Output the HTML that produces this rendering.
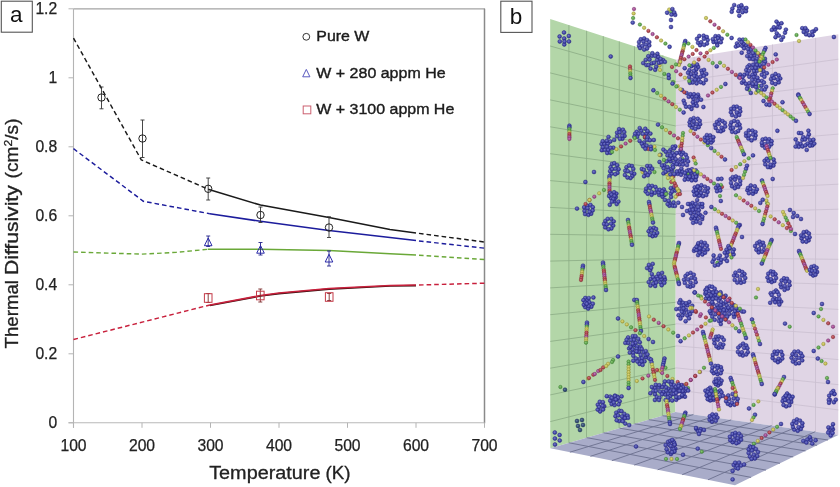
<!DOCTYPE html>
<html><head><meta charset="utf-8"><title>Thermal diffusivity of W with He</title>
<style>html,body{margin:0;padding:0;background:#fff}svg{display:block}</style></head>
<body>
<svg width="840" height="487" viewBox="0 0 840 487">
<rect width="840" height="487" fill="#fff"/>
<defs>
<radialGradient id="gb" cx="42%" cy="40%" r="60%"><stop offset="0" stop-color="#777ac3"/><stop offset="0.55" stop-color="#4a4eb0"/><stop offset="1" stop-color="#2c2c86"/></radialGradient>
<circle id="ab" r="1.95" fill="url(#gb)" stroke="#2c2c86" stroke-width="0.5"/>
<radialGradient id="gg" cx="42%" cy="40%" r="60%"><stop offset="0" stop-color="#8ac07b"/><stop offset="0.55" stop-color="#64ac50"/><stop offset="1" stop-color="#44863a"/></radialGradient>
<circle id="ag" r="1.75" fill="url(#gg)" stroke="#44863a" stroke-width="0.5"/>
<radialGradient id="gy" cx="42%" cy="40%" r="60%"><stop offset="0" stop-color="#d5d281"/><stop offset="0.55" stop-color="#c8c458"/><stop offset="1" stop-color="#9c983e"/></radialGradient>
<circle id="ay" r="1.75" fill="url(#gy)" stroke="#9c983e" stroke-width="0.5"/>
<radialGradient id="gr" cx="42%" cy="40%" r="60%"><stop offset="0" stop-color="#c9777d"/><stop offset="0.55" stop-color="#b84a52"/><stop offset="1" stop-color="#8a3038"/></radialGradient>
<circle id="ar" r="1.75" fill="url(#gr)" stroke="#8a3038" stroke-width="0.5"/>
<radialGradient id="gm" cx="42%" cy="40%" r="60%"><stop offset="0" stop-color="#bf7db3"/><stop offset="0.55" stop-color="#aa529a"/><stop offset="1" stop-color="#7e3672"/></radialGradient>
<circle id="am" r="1.75" fill="url(#gm)" stroke="#7e3672" stroke-width="0.5"/>
<radialGradient id="gd" cx="42%" cy="40%" r="60%"><stop offset="0" stop-color="#667b9b"/><stop offset="0.55" stop-color="#34507a"/><stop offset="1" stop-color="#22345a"/></radialGradient>
<circle id="ad" r="1.95" fill="url(#gd)" stroke="#22345a" stroke-width="0.5"/>
<radialGradient id="gc" cx="42%" cy="40%" r="60%"><stop offset="0" stop-color="#74bdd5"/><stop offset="0.55" stop-color="#46a8c8"/><stop offset="1" stop-color="#2e7890"/></radialGradient>
<circle id="ac" r="1.75" fill="url(#gc)" stroke="#2e7890" stroke-width="0.5"/>
<filter id="soft" x="-2%" y="-2%" width="104%" height="104%"><feGaussianBlur stdDeviation="0.55"/></filter>
</defs>
<g id="panel-b">
<polygon points="550.2,19.0 676.0,59.7 675.5,412.0 550.3,448.3" fill="#b3d6a8"/>
<path d="M568.9 25.0L568.9 442.9M586.6 30.8L586.5 437.8M603.3 36.2L603.2 433.0M619.3 41.4L619.1 428.4M634.5 46.3L634.2 424.0M649.0 51.0L648.6 419.8M662.8 55.4L662.4 415.8M550.2 46.0L676.0 81.8M550.2 72.9L675.9 103.9M550.2 99.9L675.9 126.0M550.2 126.8L675.9 148.1M550.2 153.7L675.8 170.1M550.2 180.6L675.8 192.2M550.2 207.4L675.8 214.2M550.3 234.3L675.7 236.3M550.3 261.1L675.7 258.3M550.3 287.9L675.7 280.3M550.3 314.7L675.7 302.3M550.3 341.4L675.6 324.2M550.3 368.2L675.6 346.2M550.3 394.9L675.6 368.1M550.3 421.6L675.5 390.1" fill="none" stroke="#8aab84" stroke-width="0.8" opacity="1"/>
<polygon points="676.0,59.7 838.3,34.2 838.3,435.0 675.5,412.0" fill="#e0d5e5"/>
<path d="M694.1 56.9L693.7 414.6M712.8 53.9L712.4 417.2M732.0 50.9L731.7 419.9M751.9 47.8L751.6 422.8M772.5 44.5L772.2 425.7M793.7 41.2L793.5 428.7M815.6 37.8L815.5 431.8M676.0 81.7L838.3 59.2M675.9 103.6L838.3 84.1M675.9 125.6L838.3 109.1M675.9 147.6L838.3 134.1M675.8 169.6L838.3 159.1M675.8 191.6L838.3 184.2M675.8 213.6L838.3 209.2M675.8 235.6L838.3 234.2M675.7 257.6L838.3 259.3M675.7 279.6L838.3 284.4M675.7 301.7L838.3 309.4M675.6 323.7L838.3 334.5M675.6 345.8L838.3 359.6M675.6 367.8L838.3 384.7M675.5 389.9L838.3 409.9" fill="none" stroke="#cbc0d1" stroke-width="0.85" opacity="1"/>
<polygon points="550.3,448.3 675.5,412.0 838.3,435.0 735.0,485.2" fill="#a9acc9"/>
<path d="M569.1 442.8L751.1 477.4M586.9 437.7L766.0 470.1M603.7 432.8L780.0 463.3M619.6 428.2L793.2 456.9M634.7 423.8L805.5 450.9M649.0 419.7L817.1 445.3M662.6 415.7L828.0 440.0M569.9 452.2L693.4 414.5M590.4 456.3L712.0 417.1M611.9 460.6L731.1 419.9M634.2 465.1L751.0 422.7M657.7 469.8L771.6 425.6M682.2 474.7L793.0 428.6M708.0 479.8L815.2 431.7" fill="none" stroke="#6c708e" stroke-width="0.9" opacity="1"/>
<g id="atoms" filter="url(#soft)">
<use href="#ab" x="559.6" y="36.5"/>
<use href="#ab" x="559.8" y="41.5"/>
<use href="#ab" x="564.0" y="32.5"/>
<use href="#ab" x="564.2" y="38.5"/>
<use href="#ab" x="564.3" y="44.5"/>
<use href="#ab" x="568.8" y="36.0"/>
<use href="#ab" x="569.0" y="41.5"/>
<use href="#ab" x="564.5" y="41.5"/>
<use href="#ab" x="610.7" y="56.5"/>
<use href="#ar" x="630.0" y="66.5"/>
<use href="#ar" x="630.1" y="68.8"/>
<use href="#ay" x="630.2" y="71.1"/>
<use href="#ag" x="630.3" y="73.4"/>
<use href="#ag" x="630.4" y="75.7"/>
<use href="#ab" x="630.5" y="78.0"/>
<use href="#am" x="634.0" y="9.0"/>
<use href="#ay" x="633.6" y="13.5"/>
<use href="#ag" x="633.1" y="18.1"/>
<use href="#ab" x="632.7" y="22.6"/>
<use href="#ag" x="639.9" y="24.6"/>
<use href="#ay" x="644.1" y="27.8"/>
<use href="#ar" x="648.4" y="30.9"/>
<use href="#am" x="652.6" y="34.1"/>
<use href="#ar" x="656.9" y="37.3"/>
<use href="#ay" x="661.1" y="40.5"/>
<use href="#ag" x="665.4" y="43.6"/>
<use href="#ab" x="669.6" y="46.8"/>
<use href="#ag" x="671.1" y="11.9"/>
<use href="#ay" x="669.2" y="9.5"/>
<use href="#ab" x="675.2" y="14.9"/>
<use href="#ab" x="672.4" y="9.1"/>
<use href="#ab" x="667.1" y="12.7"/>
<use href="#ab" x="671.5" y="14.6"/>
<use href="#ab" x="674.2" y="12.4"/>
<use href="#ab" x="671.0" y="20.0"/>
<use href="#ab" x="671.0" y="27.0"/>
<use href="#ab" x="639.0" y="45.9"/>
<use href="#ab" x="639.0" y="42.1"/>
<use href="#ab" x="640.8" y="39.3"/>
<use href="#ab" x="644.2" y="38.4"/>
<use href="#ab" x="647.1" y="40.1"/>
<use href="#ab" x="649.3" y="42.1"/>
<use href="#ab" x="649.3" y="45.5"/>
<use href="#ab" x="647.1" y="48.6"/>
<use href="#ab" x="644.2" y="49.6"/>
<use href="#ab" x="640.1" y="48.0"/>
<use href="#ab" x="642.4" y="45.9"/>
<use href="#ab" x="643.5" y="41.7"/>
<use href="#ab" x="646.0" y="44.6"/>
<use href="#ay" x="659.6" y="65.4"/>
<use href="#ab" x="651.8" y="55.8"/>
<use href="#ab" x="649.5" y="59.5"/>
<use href="#ab" x="646.4" y="65.1"/>
<use href="#ab" x="657.1" y="60.0"/>
<use href="#ab" x="658.2" y="56.7"/>
<use href="#ab" x="655.2" y="69.8"/>
<use href="#ab" x="651.7" y="63.4"/>
<use href="#ab" x="657.4" y="53.8"/>
<use href="#ab" x="645.7" y="59.9"/>
<use href="#ab" x="648.5" y="65.1"/>
<use href="#ab" x="663.2" y="60.3"/>
<use href="#ab" x="656.2" y="66.7"/>
<use href="#ab" x="652.4" y="53.3"/>
<use href="#ab" x="650.6" y="68.6"/>
<use href="#ab" x="648.3" y="56.2"/>
<use href="#ab" x="660.6" y="58.9"/>
<use href="#ab" x="654.1" y="62.7"/>
<use href="#ab" x="664.9" y="61.9"/>
<use href="#ab" x="658.8" y="62.9"/>
<use href="#ab" x="661.3" y="62.1"/>
<use href="#ab" x="655.1" y="55.9"/>
<use href="#ab" x="643.2" y="63.1"/>
<use href="#ay" x="660.0" y="70.0"/>
<use href="#ag" x="664.4" y="74.0"/>
<use href="#ab" x="668.8" y="78.0"/>
<use href="#ag" x="673.2" y="82.0"/>
<use href="#ay" x="677.6" y="86.0"/>
<use href="#ab" x="682.0" y="90.0"/>
<use href="#ab" x="653.4" y="90.3"/>
<use href="#ag" x="657.2" y="93.1"/>
<use href="#ay" x="661.0" y="95.8"/>
<use href="#ar" x="664.7" y="98.6"/>
<use href="#am" x="668.5" y="101.4"/>
<use href="#ar" x="672.3" y="104.2"/>
<use href="#ay" x="676.0" y="107.0"/>
<use href="#ag" x="679.8" y="109.7"/>
<use href="#ab" x="683.6" y="112.5"/>
<use href="#ab" x="703.4" y="107.0"/>
<use href="#ab" x="739.3" y="15.7"/>
<use href="#ab" x="732.4" y="8.6"/>
<use href="#ab" x="743.2" y="8.1"/>
<use href="#ab" x="738.8" y="6.4"/>
<use href="#ab" x="731.7" y="11.8"/>
<use href="#ab" x="739.5" y="8.9"/>
<use href="#ab" x="742.5" y="12.2"/>
<use href="#ab" x="746.0" y="11.3"/>
<use href="#ab" x="738.4" y="11.2"/>
<use href="#ab" x="746.4" y="8.0"/>
<use href="#ab" x="734.2" y="5.1"/>
<use href="#ab" x="741.4" y="5.3"/>
<use href="#ab" x="776.8" y="33.4"/>
<use href="#ab" x="785.0" y="32.7"/>
<use href="#ab" x="783.1" y="37.1"/>
<use href="#ab" x="777.7" y="27.2"/>
<use href="#ab" x="778.5" y="23.8"/>
<use href="#ab" x="775.0" y="29.6"/>
<use href="#ab" x="781.3" y="39.9"/>
<use href="#ab" x="785.9" y="29.6"/>
<use href="#ab" x="778.9" y="35.6"/>
<use href="#ab" x="771.8" y="29.9"/>
<use href="#ab" x="773.9" y="27.3"/>
<use href="#ab" x="776.5" y="21.6"/>
<use href="#ab" x="781.5" y="23.3"/>
<use href="#ab" x="779.7" y="27.5"/>
<use href="#ab" x="775.5" y="37.2"/>
<use href="#ab" x="806.1" y="34.4"/>
<use href="#ab" x="807.3" y="30.7"/>
<use href="#ab" x="803.7" y="32.0"/>
<use href="#ab" x="802.3" y="28.2"/>
<use href="#ab" x="814.1" y="31.1"/>
<use href="#ab" x="805.4" y="28.2"/>
<use href="#ab" x="812.1" y="31.8"/>
<use href="#ab" x="816.0" y="29.2"/>
<use href="#ab" x="812.6" y="35.2"/>
<use href="#ab" x="809.3" y="35.2"/>
<use href="#ab" x="833.9" y="37.0"/>
<use href="#ag" x="796.5" y="35.0"/>
<use href="#ay" x="799.0" y="41.0"/>
<use href="#ab" x="707.7" y="40.0"/>
<use href="#ab" x="707.0" y="43.6"/>
<use href="#ab" x="704.2" y="44.9"/>
<use href="#ab" x="700.1" y="45.2"/>
<use href="#ab" x="698.0" y="42.8"/>
<use href="#ab" x="697.0" y="38.8"/>
<use href="#ab" x="699.3" y="36.0"/>
<use href="#ab" x="703.6" y="35.7"/>
<use href="#ab" x="706.8" y="37.0"/>
<use href="#ab" x="703.9" y="38.8"/>
<use href="#ab" x="701.2" y="42.3"/>
<use href="#ab" x="720.8" y="42.3"/>
<use href="#ab" x="717.1" y="43.5"/>
<use href="#ab" x="713.5" y="42.0"/>
<use href="#ab" x="712.8" y="39.2"/>
<use href="#ab" x="715.5" y="36.2"/>
<use href="#ab" x="718.7" y="36.3"/>
<use href="#ab" x="721.7" y="38.7"/>
<use href="#ab" x="716.4" y="41.5"/>
<use href="#ab" x="718.0" y="38.2"/>
<use href="#ay" x="706.0" y="18.0"/>
<use href="#ar" x="710.3" y="21.3"/>
<use href="#am" x="714.5" y="24.7"/>
<use href="#ar" x="718.8" y="28.0"/>
<use href="#ay" x="723.1" y="31.3"/>
<use href="#ag" x="727.3" y="34.7"/>
<use href="#ab" x="731.6" y="38.0"/>
<use href="#ab" x="743.0" y="39.6"/>
<use href="#ab" x="756.2" y="52.9"/>
<use href="#ab" x="758.9" y="61.3"/>
<use href="#ab" x="761.3" y="60.8"/>
<use href="#ab" x="759.0" y="67.5"/>
<use href="#ab" x="759.9" y="65.0"/>
<use href="#ab" x="759.4" y="54.9"/>
<use href="#ab" x="741.7" y="52.7"/>
<use href="#ab" x="764.9" y="58.8"/>
<use href="#ab" x="754.4" y="55.4"/>
<use href="#ab" x="745.8" y="45.3"/>
<use href="#ab" x="742.2" y="46.0"/>
<use href="#ab" x="744.1" y="48.3"/>
<use href="#ab" x="765.2" y="61.9"/>
<use href="#ab" x="764.0" y="64.1"/>
<use href="#ab" x="753.0" y="53.1"/>
<use href="#ab" x="737.0" y="43.4"/>
<use href="#ab" x="749.2" y="46.4"/>
<use href="#ab" x="749.7" y="58.8"/>
<use href="#ab" x="735.9" y="46.6"/>
<use href="#ab" x="756.9" y="58.7"/>
<use href="#ab" x="755.9" y="61.8"/>
<use href="#ab" x="761.8" y="55.4"/>
<use href="#ab" x="753.0" y="59.2"/>
<use href="#ab" x="761.1" y="57.8"/>
<use href="#ab" x="751.0" y="56.0"/>
<use href="#ab" x="747.2" y="56.1"/>
<use href="#ab" x="748.8" y="52.3"/>
<use href="#ab" x="757.0" y="64.9"/>
<use href="#ab" x="751.0" y="49.6"/>
<use href="#ab" x="743.6" y="43.7"/>
<use href="#ab" x="748.0" y="49.1"/>
<use href="#ab" x="739.5" y="39.6"/>
<use href="#ab" x="738.3" y="45.5"/>
<use href="#ab" x="741.5" y="42.3"/>
<use href="#ag" x="745.5" y="39.5"/>
<use href="#ay" x="748.0" y="42.2"/>
<use href="#ar" x="750.5" y="44.9"/>
<use href="#am" x="753.0" y="47.6"/>
<use href="#ag" x="755.5" y="50.4"/>
<use href="#ay" x="758.0" y="53.1"/>
<use href="#ar" x="760.5" y="55.8"/>
<use href="#ag" x="763.0" y="58.5"/>
<use href="#ay" x="756.0" y="92.8"/>
<use href="#ag" x="759.0" y="86.0"/>
<use href="#ag" x="749.2" y="89.9"/>
<use href="#ab" x="756.1" y="79.9"/>
<use href="#ab" x="746.2" y="70.1"/>
<use href="#ab" x="749.3" y="76.8"/>
<use href="#ab" x="766.2" y="86.8"/>
<use href="#ab" x="744.4" y="74.8"/>
<use href="#ab" x="761.8" y="74.8"/>
<use href="#ab" x="763.5" y="71.2"/>
<use href="#ab" x="749.3" y="65.3"/>
<use href="#ab" x="749.0" y="70.9"/>
<use href="#ab" x="761.6" y="85.7"/>
<use href="#ab" x="757.6" y="90.1"/>
<use href="#ab" x="758.1" y="68.2"/>
<use href="#ab" x="764.4" y="76.8"/>
<use href="#ab" x="761.9" y="80.9"/>
<use href="#ab" x="758.4" y="80.7"/>
<use href="#ab" x="755.0" y="74.2"/>
<use href="#ab" x="752.4" y="74.7"/>
<use href="#ab" x="747.3" y="73.6"/>
<use href="#ab" x="753.7" y="77.1"/>
<use href="#ab" x="752.5" y="85.9"/>
<use href="#ab" x="742.0" y="82.7"/>
<use href="#ab" x="752.3" y="68.2"/>
<use href="#ab" x="756.9" y="70.9"/>
<use href="#ab" x="756.0" y="86.9"/>
<use href="#ab" x="766.8" y="73.3"/>
<use href="#ab" x="740.2" y="74.7"/>
<use href="#ab" x="742.5" y="77.2"/>
<use href="#ab" x="750.8" y="92.9"/>
<use href="#ab" x="745.8" y="83.7"/>
<use href="#ab" x="754.0" y="71.0"/>
<use href="#ab" x="764.7" y="89.6"/>
<use href="#ab" x="743.7" y="81.0"/>
<use href="#ab" x="752.2" y="80.1"/>
<use href="#ab" x="762.0" y="67.4"/>
<use href="#ab" x="739.1" y="77.1"/>
<use href="#ab" x="747.5" y="66.9"/>
<use href="#ab" x="749.3" y="83.2"/>
<use href="#ab" x="761.5" y="90.1"/>
<use href="#ab" x="753.2" y="64.7"/>
<use href="#ab" x="756.1" y="84.0"/>
<use href="#ab" x="747.7" y="86.9"/>
<use href="#ab" x="747.0" y="88.8"/>
<use href="#ab" x="752.8" y="84.0"/>
<use href="#ab" x="761.0" y="70.0"/>
<use href="#ab" x="755.6" y="67.9"/>
<use href="#ab" x="763.9" y="82.5"/>
<use href="#ab" x="757.4" y="77.7"/>
<use href="#ab" x="778.7" y="75.4"/>
<use href="#ab" x="780.3" y="78.5"/>
<use href="#ab" x="778.7" y="82.4"/>
<use href="#ab" x="775.4" y="84.0"/>
<use href="#ab" x="772.1" y="82.8"/>
<use href="#ab" x="771.0" y="79.1"/>
<use href="#ab" x="772.3" y="75.9"/>
<use href="#ab" x="775.5" y="74.0"/>
<use href="#ab" x="777.7" y="79.5"/>
<use href="#ab" x="774.0" y="78.2"/>
<use href="#ab" x="696.6" y="83.4"/>
<use href="#ab" x="696.1" y="67.7"/>
<use href="#ab" x="691.8" y="80.1"/>
<use href="#ab" x="689.5" y="70.3"/>
<use href="#ab" x="695.8" y="73.3"/>
<use href="#ab" x="691.5" y="66.2"/>
<use href="#ab" x="701.4" y="70.6"/>
<use href="#ab" x="702.2" y="73.0"/>
<use href="#ab" x="706.3" y="73.9"/>
<use href="#ab" x="698.7" y="80.1"/>
<use href="#ab" x="704.1" y="69.9"/>
<use href="#ab" x="696.8" y="77.0"/>
<use href="#ab" x="700.6" y="76.8"/>
<use href="#ab" x="691.0" y="74.2"/>
<use href="#ab" x="698.2" y="67.0"/>
<use href="#ab" x="694.3" y="76.0"/>
<use href="#ab" x="693.6" y="64.7"/>
<use href="#ab" x="689.2" y="77.1"/>
<use href="#ab" x="703.9" y="75.9"/>
<use href="#ab" x="705.9" y="80.0"/>
<use href="#ab" x="696.3" y="69.4"/>
<use href="#ab" x="697.1" y="64.5"/>
<use href="#ab" x="692.7" y="82.6"/>
<use href="#ab" x="703.5" y="83.3"/>
<use href="#ab" x="695.3" y="79.7"/>
<use href="#ab" x="693.8" y="70.9"/>
<use href="#ab" x="688.0" y="72.8"/>
<use href="#ab" x="700.7" y="82.2"/>
<use href="#ab" x="689.9" y="82.8"/>
<use href="#ab" x="695.8" y="103.8"/>
<use href="#ab" x="686.0" y="106.7"/>
<use href="#ab" x="696.9" y="105.9"/>
<use href="#ab" x="693.4" y="105.5"/>
<use href="#ab" x="683.7" y="100.7"/>
<use href="#ab" x="691.5" y="109.0"/>
<use href="#ab" x="693.5" y="99.1"/>
<use href="#ab" x="692.9" y="102.3"/>
<use href="#ab" x="701.1" y="99.7"/>
<use href="#ab" x="684.7" y="103.6"/>
<use href="#ab" x="692.1" y="96.8"/>
<use href="#ab" x="688.7" y="96.8"/>
<use href="#ab" x="690.5" y="94.3"/>
<use href="#ab" x="694.0" y="94.3"/>
<use href="#ab" x="698.4" y="96.7"/>
<use href="#ab" x="697.9" y="94.6"/>
<use href="#ab" x="689.4" y="106.8"/>
<use href="#ab" x="686.6" y="93.1"/>
<use href="#ab" x="697.5" y="100.6"/>
<use href="#ab" x="696.5" y="96.5"/>
<use href="#ab" x="765.5" y="48.0"/>
<use href="#ab" x="764.5" y="50.3"/>
<use href="#ag" x="763.5" y="52.5"/>
<use href="#ag" x="762.5" y="54.8"/>
<use href="#ay" x="761.5" y="57.1"/>
<use href="#ay" x="760.5" y="59.3"/>
<use href="#ag" x="759.5" y="61.6"/>
<use href="#am" x="776.8" y="59.5"/>
<use href="#ar" x="772.6" y="62.1"/>
<use href="#am" x="768.4" y="64.8"/>
<use href="#ar" x="764.2" y="67.4"/>
<use href="#ay" x="760.0" y="70.0"/>
<use href="#ab" x="775.7" y="54.4"/>
<use href="#ag" x="688.4" y="43.6"/>
<use href="#ay" x="692.4" y="46.9"/>
<use href="#ar" x="696.5" y="50.1"/>
<use href="#am" x="700.5" y="53.4"/>
<use href="#ar" x="704.6" y="56.6"/>
<use href="#ay" x="708.6" y="59.9"/>
<use href="#ag" x="712.7" y="63.1"/>
<use href="#ab" x="716.7" y="66.4"/>
<use href="#ag" x="720.0" y="62.7"/>
<use href="#ay" x="724.0" y="65.8"/>
<use href="#ar" x="727.9" y="68.8"/>
<use href="#am" x="731.9" y="71.9"/>
<use href="#ar" x="735.8" y="74.9"/>
<use href="#am" x="739.8" y="78.0"/>
<use href="#ab" x="685.3" y="41.0"/>
<use href="#ab" x="684.8" y="42.7"/>
<use href="#ag" x="684.4" y="44.4"/>
<use href="#ag" x="683.9" y="46.1"/>
<use href="#ay" x="683.5" y="47.9"/>
<use href="#ay" x="683.0" y="49.6"/>
<use href="#ar" x="682.6" y="51.3"/>
<use href="#ar" x="682.1" y="53.0"/>
<use href="#am" x="681.7" y="54.7"/>
<use href="#am" x="681.2" y="56.4"/>
<use href="#ar" x="680.8" y="58.1"/>
<use href="#ar" x="680.4" y="59.9"/>
<use href="#am" x="679.9" y="61.6"/>
<use href="#am" x="679.5" y="63.3"/>
<use href="#ay" x="679.0" y="65.0"/>
<use href="#ar" x="706.9" y="52.8"/>
<use href="#ay" x="710.4" y="50.3"/>
<use href="#ag" x="713.8" y="47.9"/>
<use href="#ab" x="717.3" y="45.4"/>
<use href="#ar" x="692.7" y="54.0"/>
<use href="#am" x="688.6" y="56.6"/>
<use href="#ar" x="684.4" y="59.2"/>
<use href="#ay" x="680.3" y="61.8"/>
<use href="#ag" x="676.1" y="64.4"/>
<use href="#ar" x="672.0" y="67.0"/>
<use href="#ab" x="725.4" y="84.0"/>
<use href="#ag" x="721.0" y="86.9"/>
<use href="#ay" x="716.7" y="89.8"/>
<use href="#ar" x="712.4" y="92.6"/>
<use href="#am" x="708.0" y="95.5"/>
<use href="#ag" x="772.7" y="88.3"/>
<use href="#ay" x="772.0" y="90.8"/>
<use href="#ar" x="771.3" y="93.4"/>
<use href="#am" x="770.7" y="95.9"/>
<use href="#ar" x="770.0" y="98.5"/>
<use href="#am" x="769.3" y="101.0"/>
<use href="#ab" x="798.3" y="94.5"/>
<use href="#ag" x="800.4" y="98.6"/>
<use href="#ab" x="668.6" y="75.0"/>
<use href="#ab" x="672.5" y="83.6"/>
<use href="#ag" x="676.4" y="86.5"/>
<use href="#ay" x="680.4" y="89.3"/>
<use href="#ar" x="684.3" y="92.2"/>
<use href="#ar" x="698.8" y="59.6"/>
<use href="#ay" x="694.1" y="62.5"/>
<use href="#ag" x="689.4" y="65.3"/>
<use href="#ab" x="684.7" y="68.2"/>
<use href="#am" x="676.2" y="71.2"/>
<use href="#ar" x="680.5" y="74.5"/>
<use href="#ay" x="684.9" y="77.8"/>
<use href="#ag" x="689.2" y="81.1"/>
<use href="#ab" x="569.4" y="125.7"/>
<use href="#ab" x="569.4" y="127.4"/>
<use href="#ag" x="569.4" y="129.0"/>
<use href="#ag" x="569.4" y="130.7"/>
<use href="#ay" x="569.4" y="132.3"/>
<use href="#ar" x="569.4" y="134.0"/>
<use href="#ar" x="569.4" y="135.7"/>
<use href="#am" x="569.4" y="137.3"/>
<use href="#am" x="569.4" y="139.0"/>
<use href="#ab" x="622.9" y="129.7"/>
<use href="#ab" x="624.3" y="132.1"/>
<use href="#ab" x="624.6" y="136.0"/>
<use href="#ab" x="622.4" y="138.7"/>
<use href="#ab" x="619.9" y="138.8"/>
<use href="#ab" x="617.0" y="136.1"/>
<use href="#ab" x="617.1" y="132.6"/>
<use href="#ab" x="619.1" y="129.2"/>
<use href="#ab" x="619.7" y="132.4"/>
<use href="#ab" x="622.3" y="135.7"/>
<use href="#ab" x="601.8" y="150.2"/>
<use href="#ab" x="604.8" y="149.9"/>
<use href="#ab" x="601.6" y="144.1"/>
<use href="#ab" x="604.4" y="143.8"/>
<use href="#ab" x="614.2" y="139.9"/>
<use href="#ab" x="610.3" y="141.5"/>
<use href="#ab" x="607.7" y="143.7"/>
<use href="#ab" x="602.7" y="141.2"/>
<use href="#ab" x="606.8" y="140.7"/>
<use href="#ab" x="607.1" y="146.7"/>
<use href="#ab" x="602.8" y="147.2"/>
<use href="#ab" x="607.2" y="153.0"/>
<use href="#ab" x="608.3" y="149.9"/>
<use href="#ab" x="608.5" y="136.9"/>
<use href="#ab" x="613.4" y="147.7"/>
<use href="#ab" x="610.5" y="147.8"/>
<use href="#ab" x="610.5" y="152.7"/>
<use href="#ab" x="645.1" y="137.5"/>
<use href="#ab" x="650.4" y="133.6"/>
<use href="#ab" x="641.3" y="130.6"/>
<use href="#ab" x="646.5" y="133.5"/>
<use href="#ab" x="639.7" y="128.1"/>
<use href="#ab" x="645.3" y="128.7"/>
<use href="#ab" x="642.9" y="133.9"/>
<use href="#ab" x="636.8" y="131.8"/>
<use href="#ab" x="638.6" y="133.8"/>
<use href="#ab" x="637.2" y="136.9"/>
<use href="#ab" x="647.6" y="131.2"/>
<use href="#ab" x="647.5" y="137.6"/>
<use href="#ab" x="635.1" y="133.8"/>
<use href="#ab" x="634.4" y="136.8"/>
<use href="#ag" x="612.0" y="152.0"/>
<use href="#ay" x="616.5" y="149.2"/>
<use href="#ar" x="621.1" y="146.4"/>
<use href="#am" x="625.6" y="143.6"/>
<use href="#ar" x="630.2" y="140.8"/>
<use href="#ag" x="634.7" y="138.0"/>
<use href="#ar" x="648.3" y="149.0"/>
<use href="#ay" x="654.5" y="146.8"/>
<use href="#ar" x="644.9" y="137.0"/>
<use href="#ab" x="647.5" y="137.3"/>
<use href="#ab" x="644.0" y="142.5"/>
<use href="#ab" x="641.8" y="143.7"/>
<use href="#ab" x="647.2" y="139.9"/>
<use href="#ab" x="650.8" y="146.6"/>
<use href="#ab" x="646.6" y="145.6"/>
<use href="#ab" x="651.0" y="149.3"/>
<use href="#ab" x="643.2" y="146.4"/>
<use href="#ab" x="650.0" y="140.3"/>
<use href="#ab" x="645.4" y="148.8"/>
<use href="#ab" x="639.6" y="140.9"/>
<use href="#ab" x="653.8" y="140.0"/>
<use href="#ab" x="617.5" y="172.9"/>
<use href="#ab" x="615.3" y="174.3"/>
<use href="#ab" x="611.6" y="173.6"/>
<use href="#ab" x="610.1" y="171.2"/>
<use href="#ab" x="610.6" y="167.3"/>
<use href="#ab" x="612.0" y="163.9"/>
<use href="#ab" x="614.3" y="163.2"/>
<use href="#ab" x="617.2" y="165.2"/>
<use href="#ab" x="618.6" y="169.2"/>
<use href="#ab" x="612.1" y="169.2"/>
<use href="#ab" x="615.4" y="168.8"/>
<use href="#ab" x="631.9" y="166.0"/>
<use href="#ab" x="633.3" y="168.9"/>
<use href="#ab" x="634.3" y="173.7"/>
<use href="#ab" x="632.2" y="176.3"/>
<use href="#ab" x="630.5" y="178.1"/>
<use href="#ab" x="627.5" y="177.5"/>
<use href="#ab" x="624.9" y="175.0"/>
<use href="#ab" x="625.3" y="170.7"/>
<use href="#ab" x="626.5" y="167.2"/>
<use href="#ab" x="629.1" y="165.5"/>
<use href="#ab" x="627.8" y="171.2"/>
<use href="#ab" x="631.4" y="172.7"/>
<use href="#ay" x="642.5" y="171.9"/>
<use href="#ag" x="654.5" y="172.1"/>
<use href="#ab" x="641.8" y="169.0"/>
<use href="#ab" x="649.7" y="172.6"/>
<use href="#ab" x="647.2" y="166.0"/>
<use href="#ab" x="649.1" y="168.6"/>
<use href="#ab" x="643.9" y="169.8"/>
<use href="#ab" x="650.3" y="166.1"/>
<use href="#ab" x="644.1" y="176.3"/>
<use href="#ab" x="645.6" y="173.0"/>
<use href="#ab" x="652.2" y="168.8"/>
<use href="#ab" x="647.8" y="175.3"/>
<use href="#ay" x="666.8" y="174.3"/>
<use href="#ar" x="673.2" y="176.6"/>
<use href="#ag" x="682.6" y="159.1"/>
<use href="#ay" x="679.7" y="146.3"/>
<use href="#ab" x="683.0" y="152.7"/>
<use href="#ab" x="677.7" y="173.9"/>
<use href="#ab" x="681.4" y="154.7"/>
<use href="#ab" x="670.4" y="161.3"/>
<use href="#ab" x="664.3" y="165.3"/>
<use href="#ab" x="667.5" y="155.4"/>
<use href="#ab" x="674.1" y="162.6"/>
<use href="#ab" x="679.5" y="164.6"/>
<use href="#ab" x="660.4" y="154.8"/>
<use href="#ab" x="663.4" y="149.6"/>
<use href="#ab" x="670.4" y="149.9"/>
<use href="#ab" x="672.8" y="153.2"/>
<use href="#ab" x="679.4" y="171.2"/>
<use href="#ab" x="672.4" y="158.3"/>
<use href="#ab" x="688.1" y="161.4"/>
<use href="#ab" x="671.9" y="170.8"/>
<use href="#ab" x="670.4" y="174.5"/>
<use href="#ab" x="675.3" y="146.4"/>
<use href="#ab" x="683.1" y="164.6"/>
<use href="#ab" x="663.7" y="168.4"/>
<use href="#ab" x="675.8" y="159.2"/>
<use href="#ab" x="663.5" y="173.4"/>
<use href="#ab" x="671.4" y="168.8"/>
<use href="#ab" x="684.2" y="160.8"/>
<use href="#ab" x="682.1" y="161.0"/>
<use href="#ab" x="679.2" y="152.6"/>
<use href="#ab" x="667.6" y="167.2"/>
<use href="#ab" x="685.8" y="154.8"/>
<use href="#ab" x="677.7" y="162.5"/>
<use href="#ab" x="681.1" y="174.8"/>
<use href="#ab" x="672.7" y="165.4"/>
<use href="#ab" x="659.5" y="162.0"/>
<use href="#ab" x="682.5" y="171.6"/>
<use href="#ab" x="665.7" y="151.7"/>
<use href="#ab" x="672.8" y="146.8"/>
<use href="#ab" x="669.3" y="151.6"/>
<use href="#ab" x="665.7" y="171.9"/>
<use href="#ab" x="676.7" y="153.0"/>
<use href="#ab" x="687.0" y="157.7"/>
<use href="#ab" x="662.0" y="165.5"/>
<use href="#ab" x="687.0" y="165.1"/>
<use href="#ab" x="680.6" y="149.7"/>
<use href="#ab" x="676.7" y="164.2"/>
<use href="#ab" x="681.4" y="168.6"/>
<use href="#ab" x="674.5" y="155.5"/>
<use href="#ab" x="669.4" y="159.2"/>
<use href="#ab" x="670.8" y="155.7"/>
<use href="#ab" x="674.1" y="148.5"/>
<use href="#ab" x="676.8" y="171.5"/>
<use href="#ab" x="680.3" y="159.3"/>
<use href="#ab" x="674.3" y="174.2"/>
<use href="#ab" x="668.4" y="170.3"/>
<use href="#ab" x="666.5" y="161.4"/>
<use href="#ab" x="673.2" y="167.5"/>
<use href="#ab" x="594.0" y="172.0"/>
<use href="#ab" x="585.4" y="182.0"/>
<use href="#ab" x="609.5" y="176.0"/>
<use href="#ab" x="609.5" y="177.8"/>
<use href="#ay" x="609.5" y="179.6"/>
<use href="#ay" x="609.5" y="181.5"/>
<use href="#ar" x="609.5" y="183.3"/>
<use href="#ar" x="609.5" y="185.1"/>
<use href="#am" x="609.5" y="186.9"/>
<use href="#am" x="609.5" y="188.7"/>
<use href="#ar" x="609.5" y="190.5"/>
<use href="#ar" x="609.5" y="192.4"/>
<use href="#ay" x="609.5" y="194.2"/>
<use href="#ag" x="609.5" y="196.0"/>
<use href="#ar" x="589.5" y="200.0"/>
<use href="#am" x="594.3" y="196.7"/>
<use href="#ay" x="599.2" y="193.3"/>
<use href="#ag" x="604.0" y="190.0"/>
<use href="#ab" x="616.4" y="193.6"/>
<use href="#ab" x="615.9" y="197.1"/>
<use href="#ab" x="614.5" y="198.9"/>
<use href="#ab" x="611.0" y="198.2"/>
<use href="#ab" x="609.1" y="196.0"/>
<use href="#ab" x="610.2" y="192.9"/>
<use href="#ab" x="614.1" y="192.3"/>
<use href="#ab" x="611.4" y="194.6"/>
<use href="#ab" x="614.5" y="196.0"/>
<use href="#ab" x="645.7" y="191.5"/>
<use href="#ab" x="646.2" y="188.6"/>
<use href="#ab" x="648.6" y="185.6"/>
<use href="#ab" x="652.1" y="185.9"/>
<use href="#ab" x="655.5" y="187.0"/>
<use href="#ab" x="657.0" y="189.7"/>
<use href="#ab" x="654.8" y="192.9"/>
<use href="#ab" x="651.6" y="194.8"/>
<use href="#ab" x="647.7" y="193.7"/>
<use href="#ab" x="651.7" y="192.1"/>
<use href="#ab" x="650.2" y="188.1"/>
<use href="#ab" x="659.2" y="194.9"/>
<use href="#ab" x="658.8" y="192.4"/>
<use href="#ab" x="659.8" y="189.8"/>
<use href="#ab" x="663.8" y="189.4"/>
<use href="#ab" x="665.4" y="192.4"/>
<use href="#ab" x="664.6" y="195.0"/>
<use href="#ab" x="662.5" y="196.7"/>
<use href="#ab" x="662.2" y="191.3"/>
<use href="#ab" x="662.0" y="194.2"/>
<use href="#ar" x="677.6" y="194.6"/>
<use href="#ay" x="675.7" y="196.8"/>
<use href="#ag" x="666.2" y="194.1"/>
<use href="#ab" x="679.3" y="191.1"/>
<use href="#ab" x="675.4" y="190.5"/>
<use href="#ab" x="670.7" y="193.6"/>
<use href="#ab" x="676.5" y="188.6"/>
<use href="#ab" x="671.1" y="197.0"/>
<use href="#ab" x="673.9" y="187.4"/>
<use href="#ab" x="670.8" y="188.2"/>
<use href="#ab" x="672.1" y="191.6"/>
<use href="#ab" x="658.0" y="124.6"/>
<use href="#ag" x="662.0" y="127.3"/>
<use href="#ay" x="666.0" y="130.1"/>
<use href="#ar" x="670.0" y="132.8"/>
<use href="#am" x="674.0" y="135.5"/>
<use href="#ar" x="678.0" y="138.3"/>
<use href="#am" x="682.0" y="141.0"/>
<use href="#ab" x="691.9" y="128.0"/>
<use href="#ab" x="689.9" y="125.4"/>
<use href="#ab" x="689.6" y="122.2"/>
<use href="#ab" x="690.6" y="119.5"/>
<use href="#ab" x="693.7" y="118.1"/>
<use href="#ab" x="697.7" y="118.8"/>
<use href="#ab" x="699.7" y="120.8"/>
<use href="#ab" x="700.1" y="124.2"/>
<use href="#ab" x="698.6" y="127.2"/>
<use href="#ab" x="695.4" y="128.9"/>
<use href="#ab" x="693.2" y="124.9"/>
<use href="#ab" x="693.9" y="121.5"/>
<use href="#ab" x="696.8" y="124.3"/>
<use href="#ab" x="695.8" y="170.4"/>
<use href="#ab" x="697.1" y="173.9"/>
<use href="#ab" x="696.2" y="176.6"/>
<use href="#ab" x="693.5" y="178.0"/>
<use href="#ab" x="689.7" y="177.8"/>
<use href="#ab" x="687.1" y="176.0"/>
<use href="#ab" x="686.5" y="172.6"/>
<use href="#ab" x="688.7" y="170.0"/>
<use href="#ab" x="692.0" y="169.2"/>
<use href="#ab" x="693.6" y="172.8"/>
<use href="#ab" x="690.1" y="175.7"/>
<use href="#ab" x="693.7" y="191.4"/>
<use href="#ab" x="694.7" y="187.4"/>
<use href="#ab" x="697.8" y="186.1"/>
<use href="#ab" x="699.9" y="188.2"/>
<use href="#ab" x="700.3" y="192.7"/>
<use href="#ab" x="697.9" y="195.8"/>
<use href="#ab" x="694.5" y="194.9"/>
<use href="#ab" x="697.2" y="193.1"/>
<use href="#ab" x="697.0" y="188.8"/>
<use href="#ag" x="655.0" y="150.0"/>
<use href="#ay" x="659.5" y="155.0"/>
<use href="#ag" x="664.0" y="160.0"/>
<use href="#ay" x="668.0" y="178.0"/>
<use href="#ar" x="671.3" y="182.0"/>
<use href="#am" x="674.7" y="186.0"/>
<use href="#ay" x="678.0" y="190.0"/>
<use href="#ab" x="735.9" y="116.5"/>
<use href="#ab" x="732.1" y="115.1"/>
<use href="#ab" x="730.9" y="112.3"/>
<use href="#ab" x="731.1" y="108.9"/>
<use href="#ab" x="733.8" y="106.7"/>
<use href="#ab" x="736.8" y="106.6"/>
<use href="#ab" x="739.9" y="108.3"/>
<use href="#ab" x="740.3" y="111.5"/>
<use href="#ab" x="739.3" y="115.0"/>
<use href="#ab" x="736.8" y="112.5"/>
<use href="#ab" x="734.3" y="109.1"/>
<use href="#ab" x="718.0" y="131.0"/>
<use href="#ab" x="715.7" y="128.0"/>
<use href="#ab" x="715.0" y="124.9"/>
<use href="#ab" x="717.0" y="121.9"/>
<use href="#ab" x="719.5" y="119.9"/>
<use href="#ab" x="722.6" y="121.2"/>
<use href="#ab" x="724.9" y="123.0"/>
<use href="#ab" x="725.2" y="126.6"/>
<use href="#ab" x="723.1" y="130.2"/>
<use href="#ab" x="720.8" y="131.4"/>
<use href="#ab" x="721.6" y="127.7"/>
<use href="#ab" x="718.8" y="124.1"/>
<use href="#ab" x="737.8" y="121.8"/>
<use href="#ab" x="739.5" y="124.5"/>
<use href="#ab" x="740.2" y="128.0"/>
<use href="#ab" x="738.2" y="131.0"/>
<use href="#ab" x="735.6" y="132.4"/>
<use href="#ab" x="732.1" y="131.8"/>
<use href="#ab" x="730.7" y="128.5"/>
<use href="#ab" x="730.4" y="125.1"/>
<use href="#ab" x="731.3" y="122.4"/>
<use href="#ab" x="734.2" y="121.0"/>
<use href="#ab" x="736.9" y="125.4"/>
<use href="#ab" x="733.2" y="127.9"/>
<use href="#ab" x="752.5" y="130.6"/>
<use href="#ab" x="755.5" y="132.1"/>
<use href="#ab" x="755.6" y="135.6"/>
<use href="#ab" x="754.9" y="138.4"/>
<use href="#ab" x="751.5" y="140.4"/>
<use href="#ab" x="748.4" y="138.6"/>
<use href="#ab" x="746.1" y="135.8"/>
<use href="#ab" x="746.1" y="133.1"/>
<use href="#ab" x="748.8" y="130.5"/>
<use href="#ab" x="748.9" y="135.4"/>
<use href="#ab" x="753.0" y="134.6"/>
<use href="#ab" x="762.6" y="139.5"/>
<use href="#ab" x="765.6" y="138.7"/>
<use href="#ab" x="769.2" y="139.3"/>
<use href="#ab" x="771.6" y="141.3"/>
<use href="#ab" x="771.3" y="144.3"/>
<use href="#ab" x="769.1" y="146.7"/>
<use href="#ab" x="765.2" y="147.9"/>
<use href="#ab" x="762.3" y="145.5"/>
<use href="#ab" x="761.8" y="142.9"/>
<use href="#ab" x="768.1" y="141.8"/>
<use href="#ab" x="765.1" y="144.2"/>
<use href="#ab" x="774.3" y="162.6"/>
<use href="#ab" x="773.4" y="165.6"/>
<use href="#ab" x="770.3" y="167.2"/>
<use href="#ab" x="767.9" y="167.1"/>
<use href="#ab" x="765.3" y="164.4"/>
<use href="#ab" x="764.6" y="160.8"/>
<use href="#ab" x="766.8" y="158.8"/>
<use href="#ab" x="770.1" y="157.5"/>
<use href="#ab" x="773.6" y="159.5"/>
<use href="#ab" x="768.3" y="160.8"/>
<use href="#ab" x="770.6" y="164.7"/>
<use href="#ab" x="806.7" y="149.9"/>
<use href="#ab" x="798.8" y="146.8"/>
<use href="#ab" x="807.5" y="143.6"/>
<use href="#ab" x="802.4" y="139.7"/>
<use href="#ab" x="800.6" y="143.7"/>
<use href="#ab" x="803.3" y="137.2"/>
<use href="#ab" x="811.2" y="142.8"/>
<use href="#ab" x="798.9" y="133.0"/>
<use href="#ab" x="795.6" y="146.6"/>
<use href="#ab" x="812.4" y="145.4"/>
<use href="#ab" x="808.9" y="134.4"/>
<use href="#ab" x="795.7" y="139.5"/>
<use href="#ab" x="802.5" y="146.5"/>
<use href="#ab" x="810.1" y="140.1"/>
<use href="#ab" x="805.3" y="145.4"/>
<use href="#ab" x="807.6" y="137.1"/>
<use href="#ab" x="797.4" y="143.1"/>
<use href="#ab" x="814.3" y="143.6"/>
<use href="#ab" x="805.0" y="139.5"/>
<use href="#ab" x="808.4" y="130.7"/>
<use href="#ab" x="813.4" y="139.7"/>
<use href="#ab" x="801.3" y="133.2"/>
<use href="#ab" x="809.9" y="145.7"/>
<use href="#ab" x="777.4" y="130.8"/>
<use href="#ag" x="758.5" y="91.0"/>
<use href="#ay" x="761.2" y="93.1"/>
<use href="#ay" x="763.9" y="95.3"/>
<use href="#ag" x="766.5" y="97.4"/>
<use href="#ar" x="769.2" y="99.5"/>
<use href="#am" x="771.9" y="101.6"/>
<use href="#ar" x="774.6" y="103.8"/>
<use href="#ay" x="777.2" y="105.9"/>
<use href="#ay" x="779.9" y="108.0"/>
<use href="#ag" x="782.6" y="110.2"/>
<use href="#ay" x="785.3" y="112.3"/>
<use href="#ay" x="788.0" y="114.4"/>
<use href="#ag" x="790.6" y="116.5"/>
<use href="#ag" x="793.3" y="118.7"/>
<use href="#ab" x="796.0" y="120.8"/>
<use href="#ab" x="782.5" y="102.3"/>
<use href="#ab" x="763.5" y="101.0"/>
<use href="#ab" x="766.5" y="104.5"/>
<use href="#ab" x="769.5" y="105.0"/>
<use href="#ab" x="798.5" y="95.5"/>
<use href="#ag" x="799.9" y="97.8"/>
<use href="#ay" x="801.3" y="100.1"/>
<use href="#ar" x="802.7" y="102.4"/>
<use href="#am" x="804.0" y="104.8"/>
<use href="#ar" x="805.4" y="107.1"/>
<use href="#ay" x="806.8" y="109.4"/>
<use href="#ag" x="808.2" y="111.7"/>
<use href="#ab" x="809.6" y="114.0"/>
<use href="#ag" x="736.7" y="137.0"/>
<use href="#ag" x="737.4" y="138.7"/>
<use href="#ar" x="738.2" y="140.5"/>
<use href="#ar" x="738.9" y="142.2"/>
<use href="#am" x="739.6" y="144.0"/>
<use href="#am" x="740.4" y="145.7"/>
<use href="#ay" x="741.1" y="147.4"/>
<use href="#ay" x="741.8" y="149.2"/>
<use href="#ag" x="742.5" y="150.9"/>
<use href="#ag" x="743.3" y="152.7"/>
<use href="#ab" x="744.0" y="154.4"/>
<use href="#am" x="766.5" y="146.0"/>
<use href="#am" x="767.2" y="148.0"/>
<use href="#ar" x="767.8" y="150.0"/>
<use href="#ar" x="768.5" y="152.0"/>
<use href="#ay" x="769.2" y="154.0"/>
<use href="#ay" x="769.8" y="156.0"/>
<use href="#ag" x="770.5" y="158.0"/>
<use href="#ay" x="690.5" y="131.0"/>
<use href="#ar" x="694.0" y="133.8"/>
<use href="#am" x="697.4" y="136.7"/>
<use href="#ar" x="700.9" y="139.6"/>
<use href="#ay" x="704.3" y="142.4"/>
<use href="#ag" x="707.8" y="145.2"/>
<use href="#ab" x="711.2" y="148.1"/>
<use href="#ag" x="714.6" y="150.9"/>
<use href="#ay" x="718.1" y="153.8"/>
<use href="#ar" x="721.5" y="156.7"/>
<use href="#ab" x="725.0" y="159.5"/>
<use href="#ab" x="704.9" y="137.6"/>
<use href="#ab" x="706.9" y="135.1"/>
<use href="#ab" x="710.2" y="135.4"/>
<use href="#ab" x="713.4" y="137.2"/>
<use href="#ab" x="712.8" y="140.7"/>
<use href="#ab" x="711.2" y="142.6"/>
<use href="#ab" x="707.7" y="142.7"/>
<use href="#ab" x="705.2" y="140.7"/>
<use href="#ab" x="710.6" y="139.7"/>
<use href="#ab" x="707.6" y="138.4"/>
<use href="#ag" x="683.0" y="133.0"/>
<use href="#ag" x="682.7" y="135.7"/>
<use href="#ay" x="682.3" y="138.3"/>
<use href="#ay" x="682.0" y="141.0"/>
<use href="#ar" x="681.7" y="143.7"/>
<use href="#ar" x="681.3" y="146.3"/>
<use href="#am" x="681.0" y="149.0"/>
<use href="#ay" x="693.9" y="170.4"/>
<use href="#ag" x="688.4" y="173.1"/>
<use href="#ab" x="691.2" y="172.6"/>
<use href="#ab" x="686.7" y="171.1"/>
<use href="#ab" x="695.1" y="174.3"/>
<use href="#ab" x="690.2" y="171.1"/>
<use href="#ab" x="688.2" y="179.3"/>
<use href="#ab" x="693.3" y="177.4"/>
<use href="#ab" x="684.9" y="173.0"/>
<use href="#ab" x="695.7" y="180.2"/>
<use href="#ab" x="696.2" y="176.9"/>
<use href="#ab" x="685.6" y="176.7"/>
<use href="#ab" x="691.7" y="180.4"/>
<use href="#ab" x="684.7" y="179.7"/>
<use href="#ab" x="689.6" y="176.7"/>
<use href="#ag" x="697.5" y="172.0"/>
<use href="#ay" x="700.8" y="174.3"/>
<use href="#am" x="704.1" y="176.6"/>
<use href="#ar" x="707.4" y="178.9"/>
<use href="#am" x="710.7" y="181.2"/>
<use href="#ag" x="714.0" y="183.5"/>
<use href="#ar" x="722.0" y="186.9"/>
<use href="#ag" x="720.9" y="184.9"/>
<use href="#ab" x="721.5" y="178.8"/>
<use href="#ab" x="719.4" y="188.0"/>
<use href="#ab" x="715.9" y="187.8"/>
<use href="#ab" x="717.0" y="191.3"/>
<use href="#ab" x="717.8" y="185.4"/>
<use href="#ab" x="720.3" y="190.5"/>
<use href="#ab" x="718.1" y="179.0"/>
<use href="#ag" x="720.0" y="196.0"/>
<use href="#ab" x="720.8" y="201.0"/>
<use href="#ar" x="731.6" y="170.0"/>
<use href="#ay" x="735.9" y="167.1"/>
<use href="#ag" x="740.2" y="164.2"/>
<use href="#ay" x="744.4" y="161.2"/>
<use href="#ag" x="748.7" y="158.3"/>
<use href="#ab" x="753.0" y="155.4"/>
<use href="#ab" x="747.0" y="165.7"/>
<use href="#ab" x="746.0" y="168.8"/>
<use href="#ag" x="745.0" y="171.8"/>
<use href="#ag" x="744.0" y="174.9"/>
<use href="#ay" x="743.0" y="178.0"/>
<use href="#ab" x="730.8" y="179.0"/>
<use href="#ab" x="732.8" y="177.1"/>
<use href="#ab" x="735.9" y="176.5"/>
<use href="#ab" x="739.0" y="177.8"/>
<use href="#ab" x="740.3" y="181.1"/>
<use href="#ab" x="740.0" y="184.4"/>
<use href="#ab" x="738.2" y="186.9"/>
<use href="#ab" x="734.8" y="188.3"/>
<use href="#ab" x="732.0" y="186.3"/>
<use href="#ab" x="731.0" y="182.9"/>
<use href="#ab" x="736.3" y="184.3"/>
<use href="#ab" x="734.9" y="179.7"/>
<use href="#ab" x="747.4" y="190.3"/>
<use href="#ab" x="748.0" y="188.0"/>
<use href="#ab" x="750.8" y="185.5"/>
<use href="#ab" x="754.8" y="186.3"/>
<use href="#ab" x="756.9" y="189.5"/>
<use href="#ab" x="755.7" y="191.9"/>
<use href="#ab" x="752.9" y="193.7"/>
<use href="#ab" x="748.9" y="193.3"/>
<use href="#ab" x="753.3" y="191.1"/>
<use href="#ab" x="750.4" y="189.1"/>
<use href="#ab" x="762.0" y="180.5"/>
<use href="#ag" x="762.7" y="182.4"/>
<use href="#ay" x="763.4" y="184.4"/>
<use href="#ar" x="764.1" y="186.3"/>
<use href="#am" x="764.8" y="188.2"/>
<use href="#am" x="765.4" y="190.2"/>
<use href="#ar" x="766.1" y="192.1"/>
<use href="#ar" x="766.8" y="194.1"/>
<use href="#ay" x="767.5" y="196.0"/>
<use href="#ag" x="767.2" y="203.3"/>
<use href="#ay" x="766.4" y="200.5"/>
<use href="#ab" x="762.7" y="199.8"/>
<use href="#ab" x="760.3" y="202.9"/>
<use href="#ab" x="707.6" y="192.0"/>
<use href="#ab" x="706.3" y="195.1"/>
<use href="#ab" x="703.0" y="196.2"/>
<use href="#ab" x="699.4" y="195.5"/>
<use href="#ab" x="696.8" y="193.4"/>
<use href="#ab" x="696.1" y="190.0"/>
<use href="#ab" x="697.8" y="186.7"/>
<use href="#ab" x="701.4" y="185.3"/>
<use href="#ab" x="704.9" y="186.6"/>
<use href="#ab" x="708.0" y="188.3"/>
<use href="#ab" x="701.1" y="192.9"/>
<use href="#ab" x="700.5" y="188.8"/>
<use href="#ab" x="704.7" y="191.0"/>
<use href="#ar" x="693.6" y="157.5"/>
<use href="#ay" x="694.7" y="160.6"/>
<use href="#ag" x="695.7" y="163.6"/>
<use href="#ab" x="772.7" y="179.0"/>
<use href="#ay" x="672.0" y="178.0"/>
<use href="#ay" x="673.3" y="180.7"/>
<use href="#ar" x="674.7" y="183.3"/>
<use href="#ar" x="676.0" y="186.0"/>
<use href="#ay" x="677.3" y="188.7"/>
<use href="#ay" x="678.7" y="191.3"/>
<use href="#ar" x="680.0" y="194.0"/>
<use href="#ab" x="588.5" y="214.8"/>
<use href="#ab" x="585.1" y="214.1"/>
<use href="#ab" x="584.5" y="211.0"/>
<use href="#ab" x="584.2" y="207.3"/>
<use href="#ab" x="587.3" y="205.7"/>
<use href="#ab" x="590.5" y="204.9"/>
<use href="#ab" x="592.8" y="207.2"/>
<use href="#ab" x="592.6" y="210.5"/>
<use href="#ab" x="591.2" y="213.7"/>
<use href="#ab" x="587.6" y="208.2"/>
<use href="#ab" x="589.5" y="211.8"/>
<use href="#ab" x="577.0" y="208.6"/>
<use href="#ay" x="589.5" y="200.0"/>
<use href="#ar" x="585.5" y="204.0"/>
<use href="#ab" x="616.7" y="204.1"/>
<use href="#ab" x="613.9" y="201.4"/>
<use href="#ab" x="618.4" y="201.6"/>
<use href="#ab" x="609.8" y="204.8"/>
<use href="#ab" x="613.3" y="199.0"/>
<use href="#ab" x="611.9" y="201.6"/>
<use href="#ab" x="613.7" y="221.4"/>
<use href="#ab" x="613.2" y="225.6"/>
<use href="#ab" x="611.4" y="228.5"/>
<use href="#ab" x="608.5" y="229.3"/>
<use href="#ab" x="605.3" y="227.4"/>
<use href="#ab" x="604.1" y="223.9"/>
<use href="#ab" x="605.4" y="220.9"/>
<use href="#ab" x="607.7" y="218.9"/>
<use href="#ab" x="611.3" y="218.9"/>
<use href="#ab" x="606.9" y="224.4"/>
<use href="#ab" x="611.0" y="223.6"/>
<use href="#ab" x="628.0" y="220.0"/>
<use href="#ag" x="628.3" y="221.9"/>
<use href="#ag" x="628.6" y="223.8"/>
<use href="#ay" x="628.9" y="225.7"/>
<use href="#ar" x="629.2" y="227.6"/>
<use href="#ar" x="629.5" y="229.5"/>
<use href="#am" x="629.8" y="231.4"/>
<use href="#am" x="630.2" y="233.4"/>
<use href="#ar" x="630.5" y="235.3"/>
<use href="#ar" x="630.8" y="237.2"/>
<use href="#ay" x="631.1" y="239.1"/>
<use href="#ag" x="631.4" y="241.0"/>
<use href="#ag" x="631.7" y="242.9"/>
<use href="#ab" x="632.0" y="244.8"/>
<use href="#ab" x="649.0" y="202.0"/>
<use href="#ab" x="649.4" y="204.1"/>
<use href="#ar" x="649.8" y="206.1"/>
<use href="#ar" x="650.2" y="208.2"/>
<use href="#am" x="650.6" y="210.2"/>
<use href="#am" x="651.0" y="212.3"/>
<use href="#ay" x="651.4" y="214.4"/>
<use href="#ay" x="651.8" y="216.4"/>
<use href="#ag" x="652.2" y="218.5"/>
<use href="#ag" x="652.6" y="220.5"/>
<use href="#ab" x="653.0" y="222.6"/>
<use href="#ab" x="655.5" y="235.6"/>
<use href="#ab" x="652.5" y="236.2"/>
<use href="#ab" x="649.9" y="234.9"/>
<use href="#ab" x="648.6" y="231.3"/>
<use href="#ab" x="650.4" y="228.4"/>
<use href="#ab" x="654.0" y="227.8"/>
<use href="#ab" x="656.1" y="229.0"/>
<use href="#ab" x="657.2" y="232.9"/>
<use href="#ab" x="653.9" y="233.5"/>
<use href="#ab" x="651.7" y="230.6"/>
<use href="#ab" x="669.7" y="203.3"/>
<use href="#ab" x="672.7" y="205.8"/>
<use href="#ab" x="665.0" y="200.0"/>
<use href="#ab" x="669.4" y="205.7"/>
<use href="#ab" x="675.0" y="205.9"/>
<use href="#ab" x="667.6" y="204.1"/>
<use href="#ab" x="673.6" y="202.5"/>
<use href="#ab" x="668.7" y="200.7"/>
<use href="#ab" x="678.3" y="202.7"/>
<use href="#ab" x="679.0" y="243.0"/>
<use href="#ab" x="678.6" y="244.6"/>
<use href="#ag" x="678.2" y="246.2"/>
<use href="#ag" x="677.9" y="247.7"/>
<use href="#ay" x="677.5" y="249.3"/>
<use href="#ay" x="677.1" y="250.9"/>
<use href="#ar" x="676.7" y="252.5"/>
<use href="#ar" x="676.3" y="254.0"/>
<use href="#am" x="676.0" y="255.6"/>
<use href="#am" x="675.6" y="257.2"/>
<use href="#ar" x="675.2" y="258.8"/>
<use href="#ar" x="674.8" y="260.4"/>
<use href="#ay" x="674.4" y="261.9"/>
<use href="#ay" x="674.0" y="263.5"/>
<use href="#ay" x="674.3" y="265.1"/>
<use href="#ar" x="674.7" y="266.7"/>
<use href="#ar" x="675.1" y="268.2"/>
<use href="#am" x="675.5" y="269.8"/>
<use href="#am" x="675.9" y="271.4"/>
<use href="#ar" x="676.3" y="273.0"/>
<use href="#ar" x="676.7" y="274.5"/>
<use href="#ay" x="677.1" y="276.1"/>
<use href="#ay" x="677.4" y="277.7"/>
<use href="#ag" x="677.8" y="279.3"/>
<use href="#ag" x="678.2" y="280.8"/>
<use href="#ab" x="678.6" y="282.4"/>
<use href="#ab" x="679.0" y="284.0"/>
<use href="#ab" x="583.0" y="265.7"/>
<use href="#ab" x="582.7" y="267.7"/>
<use href="#ag" x="582.4" y="269.8"/>
<use href="#ay" x="582.1" y="271.8"/>
<use href="#ay" x="581.9" y="273.9"/>
<use href="#ar" x="581.6" y="275.9"/>
<use href="#ar" x="581.3" y="278.0"/>
<use href="#ar" x="581.0" y="280.0"/>
<use href="#ab" x="603.0" y="262.6"/>
<use href="#ab" x="603.2" y="264.6"/>
<use href="#ag" x="603.4" y="266.5"/>
<use href="#ag" x="603.6" y="268.5"/>
<use href="#ar" x="603.9" y="270.4"/>
<use href="#ar" x="604.1" y="272.4"/>
<use href="#am" x="604.3" y="274.3"/>
<use href="#am" x="604.5" y="276.3"/>
<use href="#ar" x="604.7" y="278.3"/>
<use href="#ar" x="604.9" y="280.2"/>
<use href="#ay" x="605.1" y="282.2"/>
<use href="#ay" x="605.4" y="284.1"/>
<use href="#ag" x="605.6" y="286.1"/>
<use href="#ag" x="605.8" y="288.0"/>
<use href="#ab" x="606.0" y="290.0"/>
<use href="#ab" x="647.1" y="268.1"/>
<use href="#ab" x="652.7" y="263.9"/>
<use href="#ab" x="648.9" y="264.9"/>
<use href="#ab" x="650.1" y="270.2"/>
<use href="#ab" x="651.2" y="267.8"/>
<use href="#ab" x="650.7" y="279.0"/>
<use href="#ab" x="655.2" y="286.0"/>
<use href="#ab" x="651.8" y="274.1"/>
<use href="#ab" x="653.1" y="277.2"/>
<use href="#ab" x="662.1" y="272.9"/>
<use href="#ab" x="660.5" y="282.5"/>
<use href="#ab" x="656.7" y="276.8"/>
<use href="#ab" x="657.7" y="279.1"/>
<use href="#ab" x="650.5" y="285.6"/>
<use href="#ab" x="648.7" y="282.1"/>
<use href="#ab" x="658.5" y="273.8"/>
<use href="#ab" x="664.9" y="279.5"/>
<use href="#ab" x="653.3" y="283.5"/>
<use href="#ab" x="654.5" y="279.8"/>
<use href="#ab" x="656.2" y="282.6"/>
<use href="#ab" x="664.3" y="277.2"/>
<use href="#ab" x="661.4" y="279.2"/>
<use href="#ab" x="661.7" y="285.3"/>
<use href="#ab" x="664.4" y="282.8"/>
<use href="#ab" x="660.5" y="276.8"/>
<use href="#ab" x="696.1" y="209.6"/>
<use href="#ab" x="697.8" y="218.9"/>
<use href="#ab" x="692.5" y="202.9"/>
<use href="#ab" x="698.3" y="207.1"/>
<use href="#ab" x="694.0" y="206.2"/>
<use href="#ab" x="698.8" y="210.3"/>
<use href="#ab" x="689.6" y="210.2"/>
<use href="#ab" x="697.2" y="200.1"/>
<use href="#ab" x="694.8" y="218.5"/>
<use href="#ab" x="689.6" y="204.1"/>
<use href="#ab" x="702.3" y="207.0"/>
<use href="#ab" x="695.8" y="203.8"/>
<use href="#ab" x="705.5" y="212.8"/>
<use href="#ab" x="696.4" y="221.8"/>
<use href="#ab" x="700.1" y="204.0"/>
<use href="#ab" x="694.5" y="212.5"/>
<use href="#ab" x="691.4" y="218.6"/>
<use href="#ab" x="700.2" y="215.2"/>
<use href="#ab" x="702.3" y="204.0"/>
<use href="#ab" x="698.5" y="213.7"/>
<use href="#ab" x="691.4" y="206.8"/>
<use href="#ab" x="693.1" y="222.8"/>
<use href="#ab" x="690.6" y="213.3"/>
<use href="#ab" x="702.2" y="219.1"/>
<use href="#ab" x="696.2" y="215.8"/>
<use href="#ab" x="692.5" y="216.5"/>
<use href="#ab" x="702.4" y="216.7"/>
<use href="#ab" x="700.2" y="223.1"/>
<use href="#ab" x="692.9" y="209.9"/>
<use href="#ab" x="682.0" y="207.0"/>
<use href="#ab" x="683.0" y="215.0"/>
<use href="#ab" x="687.0" y="211.0"/>
<use href="#ab" x="688.0" y="204.0"/>
<use href="#ab" x="697.9" y="245.0"/>
<use href="#ab" x="697.9" y="250.3"/>
<use href="#ab" x="699.0" y="247.5"/>
<use href="#ab" x="694.0" y="250.8"/>
<use href="#ab" x="694.7" y="248.9"/>
<use href="#ab" x="698.1" y="255.1"/>
<use href="#ab" x="700.5" y="251.7"/>
<use href="#ab" x="701.8" y="248.6"/>
<use href="#ab" x="684.1" y="279.7"/>
<use href="#ab" x="685.5" y="276.0"/>
<use href="#ab" x="687.6" y="273.9"/>
<use href="#ab" x="690.6" y="272.9"/>
<use href="#ab" x="693.8" y="274.7"/>
<use href="#ab" x="695.0" y="278.7"/>
<use href="#ab" x="695.7" y="282.2"/>
<use href="#ab" x="693.1" y="285.7"/>
<use href="#ab" x="690.2" y="286.8"/>
<use href="#ab" x="687.6" y="286.1"/>
<use href="#ab" x="684.8" y="282.9"/>
<use href="#ab" x="688.1" y="279.5"/>
<use href="#ab" x="691.4" y="277.9"/>
<use href="#ab" x="690.6" y="282.6"/>
<use href="#ab" x="585.3" y="298.0"/>
<use href="#ab" x="593.4" y="297.5"/>
<use href="#ab" x="583.4" y="300.2"/>
<use href="#ab" x="587.5" y="300.0"/>
<use href="#ab" x="588.8" y="298.1"/>
<use href="#ab" x="634.3" y="299.9"/>
<use href="#ab" x="636.7" y="301.2"/>
<use href="#ab" x="711.4" y="207.0"/>
<use href="#ag" x="714.9" y="209.2"/>
<use href="#ay" x="718.5" y="211.5"/>
<use href="#ar" x="722.0" y="213.8"/>
<use href="#am" x="725.6" y="216.0"/>
<use href="#ar" x="729.1" y="218.2"/>
<use href="#ay" x="732.7" y="220.5"/>
<use href="#ag" x="736.2" y="222.8"/>
<use href="#ab" x="739.8" y="225.0"/>
<use href="#ag" x="736.0" y="195.3"/>
<use href="#ay" x="739.8" y="197.9"/>
<use href="#ar" x="743.7" y="200.5"/>
<use href="#am" x="747.5" y="203.2"/>
<use href="#ar" x="751.3" y="205.8"/>
<use href="#ay" x="755.2" y="208.4"/>
<use href="#ag" x="759.0" y="211.0"/>
<use href="#ay" x="768.0" y="204.0"/>
<use href="#ar" x="767.3" y="206.5"/>
<use href="#am" x="766.6" y="209.0"/>
<use href="#ar" x="765.9" y="211.5"/>
<use href="#ar" x="765.2" y="214.0"/>
<use href="#ay" x="764.6" y="216.5"/>
<use href="#ag" x="763.9" y="219.0"/>
<use href="#ag" x="763.2" y="221.5"/>
<use href="#ab" x="762.5" y="224.0"/>
<use href="#ay" x="770.6" y="216.4"/>
<use href="#ar" x="774.7" y="219.3"/>
<use href="#am" x="778.7" y="222.3"/>
<use href="#ay" x="782.8" y="225.2"/>
<use href="#ar" x="786.9" y="228.1"/>
<use href="#ag" x="790.9" y="231.1"/>
<use href="#ab" x="795.0" y="234.0"/>
<use href="#ay" x="783.0" y="212.0"/>
<use href="#ay" x="784.3" y="214.8"/>
<use href="#ag" x="785.7" y="217.7"/>
<use href="#ag" x="787.0" y="220.5"/>
<use href="#ar" x="788.3" y="223.3"/>
<use href="#ar" x="789.7" y="226.2"/>
<use href="#am" x="791.0" y="229.0"/>
<use href="#ab" x="790.0" y="210.0"/>
<use href="#ab" x="793.7" y="213.0"/>
<use href="#ab" x="797.3" y="216.0"/>
<use href="#ab" x="801.0" y="219.0"/>
<use href="#ab" x="793.0" y="217.0"/>
<use href="#ab" x="806.6" y="231.7"/>
<use href="#ab" x="808.9" y="233.5"/>
<use href="#ab" x="809.6" y="237.3"/>
<use href="#ab" x="808.6" y="240.4"/>
<use href="#ab" x="806.3" y="241.7"/>
<use href="#ab" x="802.7" y="241.5"/>
<use href="#ab" x="801.5" y="238.4"/>
<use href="#ab" x="801.2" y="235.4"/>
<use href="#ab" x="803.7" y="232.2"/>
<use href="#ab" x="803.8" y="236.3"/>
<use href="#ab" x="807.0" y="237.9"/>
<use href="#ab" x="716.0" y="227.7"/>
<use href="#ab" x="716.5" y="229.8"/>
<use href="#ag" x="717.0" y="232.0"/>
<use href="#ag" x="717.5" y="234.1"/>
<use href="#ay" x="718.0" y="236.2"/>
<use href="#ay" x="718.5" y="238.3"/>
<use href="#ar" x="719.0" y="240.5"/>
<use href="#ar" x="719.5" y="242.6"/>
<use href="#am" x="720.0" y="244.7"/>
<use href="#am" x="720.5" y="246.9"/>
<use href="#ar" x="721.0" y="249.0"/>
<use href="#ab" x="738.8" y="225.7"/>
<use href="#ab" x="738.0" y="227.6"/>
<use href="#ay" x="737.2" y="229.6"/>
<use href="#ay" x="736.5" y="231.5"/>
<use href="#ar" x="735.7" y="233.5"/>
<use href="#ar" x="734.9" y="235.4"/>
<use href="#am" x="734.1" y="237.3"/>
<use href="#am" x="733.4" y="239.3"/>
<use href="#ar" x="732.6" y="241.2"/>
<use href="#ar" x="731.8" y="243.2"/>
<use href="#ay" x="731.0" y="245.1"/>
<use href="#ay" x="730.3" y="247.1"/>
<use href="#ag" x="729.5" y="249.0"/>
<use href="#ab" x="742.0" y="237.0"/>
<use href="#ab" x="702.4" y="254.5"/>
<use href="#ab" x="699.5" y="252.6"/>
<use href="#ab" x="696.6" y="250.1"/>
<use href="#ab" x="696.5" y="246.8"/>
<use href="#ab" x="698.3" y="243.3"/>
<use href="#ab" x="701.3" y="242.1"/>
<use href="#ab" x="704.9" y="242.9"/>
<use href="#ab" x="706.9" y="245.7"/>
<use href="#ab" x="707.6" y="249.4"/>
<use href="#ab" x="705.1" y="252.7"/>
<use href="#ab" x="699.8" y="248.4"/>
<use href="#ab" x="702.7" y="245.6"/>
<use href="#ab" x="703.9" y="249.6"/>
<use href="#ag" x="717.4" y="262.8"/>
<use href="#ab" x="718.4" y="258.4"/>
<use href="#ab" x="714.9" y="265.6"/>
<use href="#ab" x="718.3" y="264.8"/>
<use href="#ab" x="719.9" y="255.6"/>
<use href="#ab" x="720.7" y="262.6"/>
<use href="#ab" x="721.3" y="259.7"/>
<use href="#ab" x="713.6" y="255.5"/>
<use href="#ab" x="713.9" y="259.2"/>
<use href="#ab" x="712.5" y="261.9"/>
<use href="#ay" x="730.2" y="254.6"/>
<use href="#ag" x="731.5" y="257.5"/>
<use href="#ab" x="725.2" y="259.1"/>
<use href="#ab" x="727.6" y="252.3"/>
<use href="#ab" x="726.8" y="255.7"/>
<use href="#ab" x="726.5" y="249.6"/>
<use href="#ab" x="727.0" y="261.0"/>
<use href="#ab" x="728.4" y="246.2"/>
<use href="#ab" x="733.8" y="249.5"/>
<use href="#ab" x="733.6" y="254.4"/>
<use href="#ab" x="732.7" y="251.9"/>
<use href="#ab" x="729.7" y="248.2"/>
<use href="#ab" x="724.7" y="252.7"/>
<use href="#ab" x="763.9" y="250.0"/>
<use href="#ab" x="762.1" y="251.7"/>
<use href="#ab" x="758.7" y="252.4"/>
<use href="#ab" x="756.4" y="249.8"/>
<use href="#ab" x="755.1" y="246.0"/>
<use href="#ab" x="757.2" y="243.1"/>
<use href="#ab" x="759.6" y="241.6"/>
<use href="#ab" x="763.0" y="242.8"/>
<use href="#ab" x="764.0" y="245.9"/>
<use href="#ab" x="759.2" y="249.0"/>
<use href="#ab" x="760.6" y="245.0"/>
<use href="#ab" x="771.6" y="240.0"/>
<use href="#ab" x="770.9" y="241.7"/>
<use href="#ag" x="770.2" y="243.4"/>
<use href="#ag" x="769.5" y="245.1"/>
<use href="#ay" x="768.8" y="246.7"/>
<use href="#ay" x="768.1" y="248.4"/>
<use href="#am" x="767.4" y="250.1"/>
<use href="#am" x="766.7" y="251.8"/>
<use href="#ar" x="766.0" y="253.5"/>
<use href="#ar" x="765.3" y="255.2"/>
<use href="#ay" x="764.6" y="256.9"/>
<use href="#ay" x="763.9" y="258.5"/>
<use href="#ag" x="763.2" y="260.2"/>
<use href="#ag" x="762.5" y="261.9"/>
<use href="#ab" x="761.8" y="263.6"/>
<use href="#ab" x="799.0" y="251.0"/>
<use href="#ab" x="799.7" y="252.7"/>
<use href="#ag" x="800.3" y="254.3"/>
<use href="#ag" x="801.0" y="255.9"/>
<use href="#ay" x="801.7" y="257.6"/>
<use href="#ay" x="802.3" y="259.2"/>
<use href="#ar" x="803.0" y="260.9"/>
<use href="#ar" x="803.7" y="262.6"/>
<use href="#am" x="804.3" y="264.2"/>
<use href="#am" x="805.0" y="265.9"/>
<use href="#ar" x="805.7" y="267.5"/>
<use href="#ar" x="806.3" y="269.2"/>
<use href="#ay" x="807.0" y="270.8"/>
<use href="#ab" x="813.2" y="275.5"/>
<use href="#ab" x="810.7" y="273.8"/>
<use href="#ab" x="809.8" y="269.9"/>
<use href="#ab" x="811.4" y="266.9"/>
<use href="#ab" x="814.1" y="266.1"/>
<use href="#ab" x="816.6" y="267.8"/>
<use href="#ab" x="817.1" y="272.0"/>
<use href="#ab" x="815.5" y="274.7"/>
<use href="#ab" x="812.1" y="270.8"/>
<use href="#ab" x="815.1" y="271.1"/>
<use href="#ab" x="741.0" y="282.8"/>
<use href="#ab" x="737.3" y="282.6"/>
<use href="#ab" x="734.7" y="279.9"/>
<use href="#ab" x="734.1" y="275.6"/>
<use href="#ab" x="735.5" y="272.6"/>
<use href="#ab" x="739.4" y="270.8"/>
<use href="#ab" x="742.3" y="272.0"/>
<use href="#ab" x="744.5" y="274.0"/>
<use href="#ab" x="745.3" y="278.0"/>
<use href="#ab" x="744.1" y="281.7"/>
<use href="#ab" x="740.0" y="279.5"/>
<use href="#ab" x="737.4" y="275.9"/>
<use href="#ab" x="742.0" y="275.5"/>
<use href="#ab" x="768.3" y="273.7"/>
<use href="#ab" x="770.9" y="271.4"/>
<use href="#ab" x="773.4" y="272.0"/>
<use href="#ab" x="775.5" y="274.2"/>
<use href="#ab" x="776.1" y="278.0"/>
<use href="#ab" x="774.4" y="280.9"/>
<use href="#ab" x="771.7" y="282.1"/>
<use href="#ab" x="768.6" y="280.9"/>
<use href="#ab" x="767.5" y="277.5"/>
<use href="#ab" x="772.8" y="274.8"/>
<use href="#ab" x="771.0" y="279.3"/>
<use href="#ab" x="789.6" y="285.2"/>
<use href="#ab" x="787.9" y="288.5"/>
<use href="#ab" x="784.6" y="289.9"/>
<use href="#ab" x="781.3" y="287.3"/>
<use href="#ab" x="780.6" y="284.4"/>
<use href="#ab" x="781.6" y="280.5"/>
<use href="#ab" x="784.0" y="278.3"/>
<use href="#ab" x="787.0" y="278.8"/>
<use href="#ab" x="789.3" y="281.6"/>
<use href="#ab" x="784.8" y="286.0"/>
<use href="#ab" x="785.5" y="281.7"/>
<use href="#ab" x="710.3" y="296.9"/>
<use href="#ab" x="707.6" y="296.5"/>
<use href="#ab" x="705.3" y="293.7"/>
<use href="#ab" x="705.4" y="290.2"/>
<use href="#ab" x="707.0" y="287.8"/>
<use href="#ab" x="709.8" y="286.4"/>
<use href="#ab" x="712.2" y="286.8"/>
<use href="#ab" x="714.7" y="288.7"/>
<use href="#ab" x="715.5" y="292.5"/>
<use href="#ab" x="713.8" y="295.5"/>
<use href="#ab" x="712.1" y="292.3"/>
<use href="#ab" x="708.0" y="290.4"/>
<use href="#ab" x="770.7" y="293.3"/>
<use href="#ab" x="776.5" y="299.4"/>
<use href="#ab" x="776.0" y="290.5"/>
<use href="#ab" x="774.0" y="292.1"/>
<use href="#ab" x="771.7" y="295.0"/>
<use href="#ab" x="774.4" y="298.3"/>
<use href="#ab" x="777.5" y="292.2"/>
<use href="#ab" x="778.9" y="294.9"/>
<use href="#ay" x="758.0" y="289.0"/>
<use href="#ag" x="756.0" y="297.5"/>
<use href="#ab" x="694.6" y="292.4"/>
<use href="#ag" x="700.8" y="296.5"/>
<use href="#ar" x="718.3" y="293.4"/>
<use href="#ay" x="723.9" y="296.0"/>
<use href="#ar" x="729.5" y="298.6"/>
<use href="#ab" x="589.4" y="302.3"/>
<use href="#ab" x="592.8" y="303.7"/>
<use href="#ab" x="591.4" y="306.7"/>
<use href="#ab" x="588.2" y="308.6"/>
<use href="#ab" x="585.2" y="307.1"/>
<use href="#ab" x="583.8" y="304.7"/>
<use href="#ab" x="585.4" y="302.8"/>
<use href="#ab" x="588.6" y="306.1"/>
<use href="#ab" x="586.8" y="303.8"/>
<use href="#ab" x="587.0" y="322.6"/>
<use href="#ab" x="586.9" y="324.6"/>
<use href="#ag" x="586.8" y="326.6"/>
<use href="#ay" x="586.7" y="328.6"/>
<use href="#ay" x="586.6" y="330.6"/>
<use href="#ar" x="586.5" y="332.6"/>
<use href="#ar" x="586.4" y="334.7"/>
<use href="#am" x="586.3" y="336.7"/>
<use href="#ay" x="586.2" y="338.7"/>
<use href="#ay" x="586.1" y="340.7"/>
<use href="#ag" x="586.0" y="342.7"/>
<use href="#ab" x="636.8" y="300.0"/>
<use href="#ag" x="637.1" y="302.1"/>
<use href="#ag" x="637.4" y="304.1"/>
<use href="#ay" x="637.6" y="306.2"/>
<use href="#ay" x="637.9" y="308.3"/>
<use href="#ar" x="638.2" y="310.3"/>
<use href="#ar" x="638.5" y="312.4"/>
<use href="#am" x="638.8" y="314.5"/>
<use href="#am" x="639.0" y="316.5"/>
<use href="#ar" x="639.3" y="318.6"/>
<use href="#ar" x="639.6" y="320.7"/>
<use href="#ay" x="639.9" y="322.7"/>
<use href="#ay" x="640.2" y="324.8"/>
<use href="#ag" x="640.4" y="326.9"/>
<use href="#ag" x="640.7" y="328.9"/>
<use href="#ab" x="641.0" y="331.0"/>
<use href="#ab" x="618.0" y="318.5"/>
<use href="#ay" x="622.4" y="321.4"/>
<use href="#ay" x="626.8" y="324.4"/>
<use href="#ag" x="631.1" y="327.3"/>
<use href="#ar" x="635.5" y="330.2"/>
<use href="#ag" x="639.9" y="333.2"/>
<use href="#ay" x="644.2" y="336.1"/>
<use href="#ab" x="648.6" y="339.1"/>
<use href="#ab" x="653.0" y="342.0"/>
<use href="#ay" x="649.0" y="316.4"/>
<use href="#ar" x="653.8" y="319.7"/>
<use href="#am" x="658.7" y="322.9"/>
<use href="#ar" x="663.5" y="326.2"/>
<use href="#ay" x="668.3" y="329.5"/>
<use href="#ag" x="673.2" y="332.7"/>
<use href="#ab" x="678.0" y="336.0"/>
<use href="#ab" x="633.2" y="352.8"/>
<use href="#ab" x="632.8" y="336.2"/>
<use href="#ab" x="632.6" y="349.4"/>
<use href="#ab" x="639.8" y="342.3"/>
<use href="#ab" x="633.6" y="345.4"/>
<use href="#ab" x="628.1" y="337.4"/>
<use href="#ab" x="628.2" y="343.0"/>
<use href="#ab" x="640.4" y="346.6"/>
<use href="#ab" x="637.1" y="351.6"/>
<use href="#ab" x="637.1" y="346.4"/>
<use href="#ab" x="635.7" y="342.7"/>
<use href="#ab" x="629.1" y="348.4"/>
<use href="#ab" x="631.1" y="340.0"/>
<use href="#ab" x="625.3" y="342.9"/>
<use href="#ab" x="634.1" y="339.8"/>
<use href="#ab" x="640.0" y="348.8"/>
<use href="#ab" x="638.3" y="338.9"/>
<use href="#ab" x="626.6" y="339.8"/>
<use href="#ab" x="636.6" y="348.8"/>
<use href="#ab" x="629.8" y="352.6"/>
<use href="#ab" x="630.4" y="346.8"/>
<use href="#ab" x="632.6" y="343.7"/>
<use href="#ab" x="635.5" y="336.2"/>
<use href="#ab" x="640.0" y="358.7"/>
<use href="#ab" x="646.0" y="357.3"/>
<use href="#ab" x="639.1" y="352.0"/>
<use href="#ab" x="640.7" y="355.0"/>
<use href="#ab" x="645.5" y="355.1"/>
<use href="#ab" x="636.0" y="358.5"/>
<use href="#ab" x="639.6" y="364.0"/>
<use href="#ab" x="643.7" y="352.1"/>
<use href="#ab" x="642.1" y="358.2"/>
<use href="#ab" x="649.2" y="358.5"/>
<use href="#ab" x="636.5" y="351.4"/>
<use href="#ab" x="641.8" y="349.0"/>
<use href="#ab" x="637.4" y="361.6"/>
<use href="#ab" x="644.5" y="361.4"/>
<use href="#ab" x="645.8" y="351.1"/>
<use href="#ab" x="642.6" y="364.9"/>
<use href="#ab" x="633.3" y="355.8"/>
<use href="#ab" x="633.3" y="360.7"/>
<use href="#ab" x="641.6" y="361.4"/>
<use href="#ab" x="647.5" y="354.4"/>
<use href="#ab" x="618.0" y="356.5"/>
<use href="#ag" x="613.1" y="360.1"/>
<use href="#ay" x="608.1" y="363.8"/>
<use href="#ar" x="603.2" y="367.4"/>
<use href="#am" x="598.2" y="371.1"/>
<use href="#ar" x="593.3" y="374.7"/>
<use href="#ay" x="588.3" y="378.4"/>
<use href="#ab" x="583.4" y="382.0"/>
<use href="#ag" x="612.0" y="362.0"/>
<use href="#ay" x="606.2" y="366.0"/>
<use href="#ar" x="600.5" y="370.0"/>
<use href="#am" x="594.8" y="374.0"/>
<use href="#ar" x="589.0" y="378.0"/>
<use href="#ag" x="560.4" y="387.0"/>
<use href="#ad" x="565.0" y="389.7"/>
<use href="#ag" x="628.6" y="361.6"/>
<use href="#ag" x="628.6" y="364.2"/>
<use href="#ay" x="628.6" y="366.9"/>
<use href="#ay" x="628.6" y="369.5"/>
<use href="#ay" x="628.6" y="372.2"/>
<use href="#ay" x="628.6" y="374.8"/>
<use href="#ay" x="628.6" y="377.4"/>
<use href="#ay" x="628.6" y="380.1"/>
<use href="#ag" x="628.6" y="382.7"/>
<use href="#ag" x="628.6" y="385.4"/>
<use href="#ab" x="628.6" y="388.0"/>
<use href="#ay" x="636.8" y="381.0"/>
<use href="#ar" x="642.5" y="378.4"/>
<use href="#am" x="648.3" y="375.7"/>
<use href="#ar" x="654.0" y="373.1"/>
<use href="#ay" x="659.8" y="370.4"/>
<use href="#ag" x="665.5" y="367.8"/>
<use href="#ab" x="651.0" y="359.5"/>
<use href="#ab" x="651.5" y="362.1"/>
<use href="#ay" x="652.0" y="364.6"/>
<use href="#ay" x="652.5" y="367.2"/>
<use href="#ar" x="653.0" y="369.8"/>
<use href="#ar" x="653.5" y="372.3"/>
<use href="#ay" x="654.0" y="374.9"/>
<use href="#ay" x="654.5" y="377.4"/>
<use href="#ar" x="655.0" y="380.0"/>
<use href="#ab" x="664.5" y="358.5"/>
<use href="#ab" x="664.0" y="360.8"/>
<use href="#ab" x="663.5" y="363.0"/>
<use href="#ab" x="663.0" y="365.2"/>
<use href="#am" x="662.4" y="367.5"/>
<use href="#am" x="661.9" y="369.8"/>
<use href="#ay" x="661.4" y="372.0"/>
<use href="#ar" x="657.0" y="370.0"/>
<use href="#am" x="662.2" y="373.0"/>
<use href="#ar" x="667.3" y="376.0"/>
<use href="#ay" x="672.5" y="379.0"/>
<use href="#ar" x="677.7" y="382.0"/>
<use href="#am" x="682.8" y="385.0"/>
<use href="#ag" x="688.0" y="388.0"/>
<use href="#ab" x="654.9" y="400.0"/>
<use href="#ab" x="655.0" y="394.3"/>
<use href="#ab" x="655.0" y="387.9"/>
<use href="#ab" x="655.8" y="384.7"/>
<use href="#ab" x="665.3" y="394.5"/>
<use href="#ab" x="658.9" y="387.6"/>
<use href="#ab" x="685.2" y="391.0"/>
<use href="#ab" x="668.3" y="393.9"/>
<use href="#ab" x="668.3" y="400.4"/>
<use href="#ab" x="665.6" y="400.0"/>
<use href="#ab" x="672.0" y="387.1"/>
<use href="#ab" x="670.1" y="396.4"/>
<use href="#ab" x="664.9" y="381.5"/>
<use href="#ab" x="678.3" y="391.3"/>
<use href="#ab" x="653.4" y="390.7"/>
<use href="#ab" x="685.0" y="396.7"/>
<use href="#ab" x="663.6" y="391.8"/>
<use href="#ab" x="671.2" y="384.3"/>
<use href="#ab" x="670.1" y="390.7"/>
<use href="#ab" x="668.0" y="397.5"/>
<use href="#ab" x="656.9" y="397.1"/>
<use href="#ab" x="664.0" y="384.8"/>
<use href="#ab" x="672.2" y="400.5"/>
<use href="#ab" x="686.2" y="388.6"/>
<use href="#ab" x="674.2" y="385.1"/>
<use href="#ab" x="668.3" y="388.6"/>
<use href="#ab" x="660.1" y="391.6"/>
<use href="#ab" x="681.5" y="385.2"/>
<use href="#ab" x="655.9" y="390.8"/>
<use href="#ab" x="679.6" y="388.5"/>
<use href="#ab" x="683.7" y="393.8"/>
<use href="#ab" x="681.8" y="396.4"/>
<use href="#ab" x="659.5" y="397.7"/>
<use href="#ab" x="676.4" y="387.9"/>
<use href="#ab" x="676.2" y="399.8"/>
<use href="#ab" x="675.1" y="390.8"/>
<use href="#ab" x="683.2" y="386.9"/>
<use href="#ab" x="650.4" y="393.3"/>
<use href="#ab" x="681.2" y="391.3"/>
<use href="#ab" x="662.3" y="387.3"/>
<use href="#ab" x="651.8" y="387.0"/>
<use href="#ab" x="666.3" y="390.6"/>
<use href="#ab" x="662.0" y="394.3"/>
<use href="#ab" x="672.4" y="394.1"/>
<use href="#ab" x="659.3" y="385.2"/>
<use href="#ab" x="688.2" y="390.6"/>
<use href="#ab" x="666.1" y="387.3"/>
<use href="#ab" x="677.9" y="397.8"/>
<use href="#ab" x="678.7" y="384.4"/>
<use href="#ab" x="668.7" y="381.5"/>
<use href="#ab" x="672.0" y="381.7"/>
<use href="#ab" x="659.0" y="400.0"/>
<use href="#ab" x="687.5" y="305.4"/>
<use href="#ab" x="688.7" y="312.1"/>
<use href="#ab" x="687.3" y="315.5"/>
<use href="#ab" x="681.8" y="305.7"/>
<use href="#ab" x="690.1" y="314.3"/>
<use href="#ab" x="689.0" y="318.4"/>
<use href="#ab" x="692.4" y="311.1"/>
<use href="#ab" x="682.5" y="315.4"/>
<use href="#ab" x="684.0" y="312.6"/>
<use href="#ab" x="689.3" y="302.0"/>
<use href="#ab" x="678.6" y="315.3"/>
<use href="#ab" x="683.0" y="302.8"/>
<use href="#ab" x="683.8" y="305.4"/>
<use href="#ab" x="679.5" y="308.8"/>
<use href="#ab" x="685.9" y="309.6"/>
<use href="#ab" x="680.4" y="300.2"/>
<use href="#ab" x="681.8" y="311.8"/>
<use href="#ab" x="685.6" y="321.3"/>
<use href="#ab" x="676.3" y="309.1"/>
<use href="#ab" x="680.5" y="318.6"/>
<use href="#ab" x="686.1" y="303.3"/>
<use href="#ab" x="679.3" y="302.8"/>
<use href="#ab" x="683.6" y="308.5"/>
<use href="#ab" x="692.2" y="305.8"/>
<use href="#ay" x="692.0" y="308.0"/>
<use href="#ar" x="696.0" y="312.0"/>
<use href="#am" x="700.0" y="316.0"/>
<use href="#ab" x="680.6" y="341.2"/>
<use href="#ag" x="684.7" y="338.3"/>
<use href="#ay" x="688.9" y="335.4"/>
<use href="#ar" x="693.0" y="332.5"/>
<use href="#am" x="697.2" y="329.5"/>
<use href="#ar" x="701.3" y="326.6"/>
<use href="#ay" x="705.5" y="323.7"/>
<use href="#ag" x="709.6" y="320.8"/>
<use href="#ay" x="686.0" y="384.0"/>
<use href="#ar" x="690.7" y="380.0"/>
<use href="#am" x="695.3" y="376.0"/>
<use href="#am" x="700.0" y="372.0"/>
<use href="#ab" x="621.6" y="396.4"/>
<use href="#ab" x="617.4" y="396.7"/>
<use href="#ab" x="613.0" y="399.6"/>
<use href="#ab" x="606.8" y="396.2"/>
<use href="#ab" x="610.2" y="396.6"/>
<use href="#ab" x="614.9" y="395.6"/>
<use href="#ab" x="616.4" y="399.6"/>
<use href="#ab" x="706.8" y="289.4"/>
<use href="#ab" x="715.5" y="294.7"/>
<use href="#ab" x="725.7" y="319.6"/>
<use href="#ab" x="735.0" y="311.3"/>
<use href="#ab" x="709.2" y="291.5"/>
<use href="#ab" x="720.3" y="298.0"/>
<use href="#ab" x="721.2" y="294.9"/>
<use href="#ab" x="710.8" y="313.4"/>
<use href="#ab" x="725.6" y="295.7"/>
<use href="#ab" x="726.7" y="305.3"/>
<use href="#ab" x="708.9" y="299.0"/>
<use href="#ab" x="738.4" y="310.4"/>
<use href="#ab" x="720.8" y="324.0"/>
<use href="#ab" x="713.2" y="292.6"/>
<use href="#ab" x="711.1" y="295.5"/>
<use href="#ab" x="705.8" y="298.6"/>
<use href="#ab" x="712.9" y="304.0"/>
<use href="#ab" x="734.1" y="316.9"/>
<use href="#ab" x="725.3" y="308.7"/>
<use href="#ab" x="718.1" y="296.1"/>
<use href="#ab" x="720.3" y="310.8"/>
<use href="#ab" x="721.6" y="314.1"/>
<use href="#ab" x="723.1" y="303.8"/>
<use href="#ab" x="717.0" y="305.2"/>
<use href="#ab" x="734.1" y="305.3"/>
<use href="#ab" x="725.9" y="301.8"/>
<use href="#ab" x="715.5" y="314.3"/>
<use href="#ab" x="729.3" y="314.0"/>
<use href="#ab" x="717.2" y="311.4"/>
<use href="#ab" x="733.5" y="314.2"/>
<use href="#ab" x="724.3" y="297.5"/>
<use href="#ab" x="710.0" y="303.8"/>
<use href="#ab" x="712.3" y="316.7"/>
<use href="#ab" x="721.5" y="307.5"/>
<use href="#ab" x="719.0" y="321.0"/>
<use href="#ab" x="726.7" y="310.6"/>
<use href="#ab" x="727.2" y="316.7"/>
<use href="#ab" x="730.3" y="310.1"/>
<use href="#ab" x="716.3" y="298.6"/>
<use href="#ab" x="719.3" y="317.2"/>
<use href="#ab" x="713.7" y="310.6"/>
<use href="#ab" x="742.2" y="311.5"/>
<use href="#ab" x="717.6" y="308.2"/>
<use href="#ab" x="724.8" y="313.7"/>
<use href="#ab" x="712.1" y="308.3"/>
<use href="#ab" x="707.4" y="296.1"/>
<use href="#ab" x="736.4" y="308.2"/>
<use href="#ab" x="723.9" y="310.2"/>
<use href="#ab" x="706.2" y="292.4"/>
<use href="#ab" x="731.6" y="304.7"/>
<use href="#ab" x="715.6" y="308.6"/>
<use href="#ab" x="736.6" y="314.2"/>
<use href="#ab" x="712.8" y="299.2"/>
<use href="#ab" x="720.5" y="292.3"/>
<use href="#ab" x="732.1" y="308.7"/>
<use href="#ab" x="728.4" y="307.7"/>
<use href="#ab" x="712.1" y="302.3"/>
<use href="#ab" x="719.2" y="313.5"/>
<use href="#ab" x="709.8" y="311.3"/>
<use href="#ab" x="718.8" y="300.9"/>
<use href="#ab" x="722.9" y="316.8"/>
<use href="#ab" x="716.6" y="292.1"/>
<use href="#ab" x="728.9" y="301.1"/>
<use href="#ab" x="721.3" y="320.3"/>
<use href="#ab" x="721.2" y="302.1"/>
<use href="#ab" x="720.7" y="305.2"/>
<use href="#ab" x="714.7" y="319.8"/>
<use href="#ab" x="694.8" y="292.5"/>
<use href="#ag" x="698.2" y="295.5"/>
<use href="#ay" x="701.6" y="298.5"/>
<use href="#ar" x="705.0" y="301.5"/>
<use href="#am" x="708.5" y="304.4"/>
<use href="#ar" x="711.9" y="307.4"/>
<use href="#am" x="715.3" y="310.4"/>
<use href="#ar" x="718.7" y="313.4"/>
<use href="#am" x="722.1" y="316.4"/>
<use href="#ar" x="725.5" y="319.4"/>
<use href="#am" x="729.0" y="322.3"/>
<use href="#ay" x="732.4" y="325.3"/>
<use href="#ag" x="735.8" y="328.3"/>
<use href="#ab" x="739.2" y="331.3"/>
<use href="#ay" x="719.5" y="294.3"/>
<use href="#ar" x="723.6" y="297.2"/>
<use href="#am" x="727.7" y="300.1"/>
<use href="#ar" x="731.8" y="303.0"/>
<use href="#ay" x="735.8" y="305.8"/>
<use href="#ag" x="739.9" y="308.7"/>
<use href="#ab" x="744.0" y="311.6"/>
<use href="#ay" x="712.7" y="329.5"/>
<use href="#ay" x="712.1" y="331.5"/>
<use href="#ar" x="711.5" y="333.5"/>
<use href="#ar" x="710.8" y="335.5"/>
<use href="#am" x="710.2" y="337.5"/>
<use href="#ab" x="781.2" y="301.6"/>
<use href="#ab" x="777.1" y="299.3"/>
<use href="#ab" x="770.2" y="302.8"/>
<use href="#ab" x="778.9" y="302.4"/>
<use href="#ab" x="773.0" y="299.6"/>
<use href="#ab" x="779.4" y="304.6"/>
<use href="#ab" x="779.5" y="299.1"/>
<use href="#ab" x="775.2" y="302.3"/>
<use href="#ay" x="690.5" y="308.0"/>
<use href="#ar" x="695.6" y="311.1"/>
<use href="#am" x="700.8" y="314.2"/>
<use href="#ar" x="705.9" y="317.4"/>
<use href="#ag" x="711.0" y="320.5"/>
<use href="#ar" x="737.8" y="314.0"/>
<use href="#ar" x="738.6" y="316.4"/>
<use href="#am" x="739.4" y="318.8"/>
<use href="#am" x="740.3" y="321.2"/>
<use href="#ag" x="741.1" y="323.6"/>
<use href="#ag" x="741.9" y="326.0"/>
<use href="#ay" x="742.7" y="328.4"/>
<use href="#ay" x="743.5" y="330.8"/>
<use href="#ag" x="744.4" y="333.2"/>
<use href="#ag" x="745.2" y="335.6"/>
<use href="#ab" x="746.0" y="338.0"/>
<use href="#ab" x="752.0" y="319.5"/>
<use href="#ag" x="753.0" y="322.6"/>
<use href="#ay" x="754.0" y="325.6"/>
<use href="#ar" x="755.0" y="328.7"/>
<use href="#am" x="756.0" y="331.8"/>
<use href="#ar" x="757.0" y="334.8"/>
<use href="#ay" x="758.0" y="337.9"/>
<use href="#ag" x="759.0" y="340.9"/>
<use href="#ab" x="760.0" y="344.0"/>
<use href="#ab" x="703.0" y="332.0"/>
<use href="#ab" x="703.6" y="334.3"/>
<use href="#ag" x="704.1" y="336.5"/>
<use href="#ag" x="704.7" y="338.8"/>
<use href="#ay" x="705.3" y="341.0"/>
<use href="#ay" x="705.9" y="343.3"/>
<use href="#ar" x="706.4" y="345.5"/>
<use href="#ar" x="707.0" y="347.8"/>
<use href="#am" x="707.6" y="350.1"/>
<use href="#am" x="708.1" y="352.3"/>
<use href="#ar" x="708.7" y="354.6"/>
<use href="#ar" x="709.3" y="356.8"/>
<use href="#ay" x="709.9" y="359.1"/>
<use href="#ay" x="710.4" y="361.3"/>
<use href="#ab" x="711.0" y="363.6"/>
<use href="#ab" x="722.1" y="347.4"/>
<use href="#ab" x="718.4" y="347.8"/>
<use href="#ab" x="716.4" y="346.4"/>
<use href="#ab" x="714.5" y="343.3"/>
<use href="#ab" x="714.1" y="339.8"/>
<use href="#ab" x="716.1" y="336.7"/>
<use href="#ab" x="718.8" y="336.4"/>
<use href="#ab" x="722.0" y="337.5"/>
<use href="#ab" x="723.8" y="339.9"/>
<use href="#ab" x="723.3" y="344.6"/>
<use href="#ab" x="720.3" y="343.9"/>
<use href="#ab" x="717.7" y="339.8"/>
<use href="#ab" x="740.4" y="345.6"/>
<use href="#ab" x="743.1" y="343.6"/>
<use href="#ab" x="746.2" y="345.5"/>
<use href="#ab" x="747.4" y="348.2"/>
<use href="#ab" x="747.8" y="352.2"/>
<use href="#ab" x="746.2" y="354.5"/>
<use href="#ab" x="742.8" y="355.6"/>
<use href="#ab" x="739.9" y="354.6"/>
<use href="#ab" x="737.9" y="351.9"/>
<use href="#ab" x="738.3" y="347.6"/>
<use href="#ab" x="741.9" y="352.3"/>
<use href="#ab" x="744.2" y="348.0"/>
<use href="#ab" x="782.4" y="355.0"/>
<use href="#ab" x="782.3" y="358.6"/>
<use href="#ab" x="780.1" y="360.7"/>
<use href="#ab" x="777.9" y="362.2"/>
<use href="#ab" x="775.1" y="360.4"/>
<use href="#ab" x="772.6" y="358.1"/>
<use href="#ab" x="772.8" y="355.0"/>
<use href="#ab" x="774.6" y="351.7"/>
<use href="#ab" x="777.7" y="351.5"/>
<use href="#ab" x="781.2" y="351.8"/>
<use href="#ab" x="778.5" y="358.7"/>
<use href="#ab" x="776.8" y="354.1"/>
<use href="#ab" x="799.0" y="363.2"/>
<use href="#ab" x="795.8" y="363.6"/>
<use href="#ab" x="792.9" y="361.6"/>
<use href="#ab" x="791.5" y="357.8"/>
<use href="#ab" x="792.5" y="354.2"/>
<use href="#ab" x="794.5" y="351.6"/>
<use href="#ab" x="798.2" y="351.5"/>
<use href="#ab" x="800.9" y="353.4"/>
<use href="#ab" x="802.4" y="356.2"/>
<use href="#ab" x="802.2" y="360.4"/>
<use href="#ab" x="799.1" y="357.9"/>
<use href="#ab" x="795.5" y="359.6"/>
<use href="#ab" x="796.0" y="355.4"/>
<use href="#ab" x="785.0" y="323.6"/>
<use href="#ag" x="789.7" y="326.7"/>
<use href="#ab" x="813.7" y="313.0"/>
<use href="#ag" x="818.5" y="316.4"/>
<use href="#ay" x="823.4" y="319.9"/>
<use href="#ar" x="828.2" y="323.3"/>
<use href="#am" x="833.0" y="326.7"/>
<use href="#ar" x="833.0" y="337.0"/>
<use href="#am" x="828.2" y="340.5"/>
<use href="#ay" x="823.4" y="344.0"/>
<use href="#ag" x="818.5" y="347.5"/>
<use href="#ab" x="813.7" y="351.0"/>
<use href="#ab" x="822.0" y="304.0"/>
<use href="#ag" x="821.0" y="309.0"/>
<use href="#ab" x="817.8" y="358.5"/>
<use href="#ag" x="821.6" y="361.1"/>
<use href="#ay" x="825.4" y="363.6"/>
<use href="#ag" x="827.0" y="378.0"/>
<use href="#ab" x="828.0" y="382.0"/>
<use href="#ab" x="834.0" y="394.0"/>
<use href="#ab" x="830.0" y="400.0"/>
<use href="#ab" x="753.0" y="354.4"/>
<use href="#ab" x="753.6" y="356.5"/>
<use href="#ay" x="754.3" y="358.6"/>
<use href="#ay" x="754.9" y="360.7"/>
<use href="#ar" x="755.5" y="362.9"/>
<use href="#ar" x="756.1" y="365.0"/>
<use href="#am" x="756.8" y="367.1"/>
<use href="#am" x="757.4" y="369.2"/>
<use href="#ar" x="758.0" y="371.3"/>
<use href="#ar" x="758.7" y="373.4"/>
<use href="#ay" x="759.3" y="375.5"/>
<use href="#ay" x="759.9" y="377.7"/>
<use href="#ag" x="760.5" y="379.8"/>
<use href="#ag" x="761.2" y="381.9"/>
<use href="#ab" x="761.8" y="384.0"/>
<use href="#ab" x="784.0" y="377.0"/>
<use href="#ag" x="782.8" y="379.2"/>
<use href="#ay" x="781.7" y="381.4"/>
<use href="#ar" x="780.5" y="383.6"/>
<use href="#am" x="779.4" y="385.8"/>
<use href="#ar" x="778.2" y="387.9"/>
<use href="#ay" x="777.0" y="390.1"/>
<use href="#ag" x="775.9" y="392.3"/>
<use href="#ab" x="774.7" y="394.5"/>
<use href="#ab" x="720.9" y="367.2"/>
<use href="#ab" x="721.6" y="370.2"/>
<use href="#ab" x="720.7" y="373.3"/>
<use href="#ab" x="717.5" y="374.3"/>
<use href="#ab" x="713.7" y="373.2"/>
<use href="#ab" x="711.9" y="371.1"/>
<use href="#ab" x="712.4" y="367.7"/>
<use href="#ab" x="715.2" y="365.9"/>
<use href="#ab" x="718.1" y="366.0"/>
<use href="#ab" x="716.4" y="371.7"/>
<use href="#ab" x="717.5" y="368.1"/>
<use href="#ab" x="718.1" y="385.5"/>
<use href="#ab" x="715.8" y="384.2"/>
<use href="#ab" x="714.4" y="382.0"/>
<use href="#ab" x="715.8" y="379.1"/>
<use href="#ab" x="719.1" y="378.6"/>
<use href="#ab" x="721.6" y="380.7"/>
<use href="#ab" x="720.6" y="383.7"/>
<use href="#ab" x="719.2" y="382.6"/>
<use href="#ab" x="716.4" y="381.6"/>
<use href="#ab" x="710.1" y="387.7"/>
<use href="#ab" x="716.5" y="396.2"/>
<use href="#ab" x="707.9" y="396.2"/>
<use href="#ab" x="720.2" y="390.5"/>
<use href="#ab" x="709.9" y="400.2"/>
<use href="#ab" x="708.2" y="389.3"/>
<use href="#ab" x="720.3" y="396.5"/>
<use href="#ab" x="715.6" y="390.9"/>
<use href="#ab" x="717.6" y="392.3"/>
<use href="#ab" x="707.0" y="393.9"/>
<use href="#ab" x="712.8" y="390.1"/>
<use href="#ab" x="711.9" y="395.5"/>
<use href="#ab" x="713.7" y="399.9"/>
<use href="#ab" x="721.5" y="392.4"/>
<use href="#ab" x="722.9" y="395.8"/>
<use href="#ab" x="718.3" y="398.9"/>
<use href="#ab" x="705.4" y="390.7"/>
<use href="#ag" x="704.0" y="367.8"/>
<use href="#ay" x="699.6" y="371.9"/>
<use href="#ar" x="695.2" y="375.9"/>
<use href="#am" x="690.8" y="379.9"/>
<use href="#ar" x="686.4" y="384.0"/>
<use href="#ab" x="730.6" y="378.0"/>
<use href="#ab" x="731.5" y="380.4"/>
<use href="#ag" x="732.3" y="382.8"/>
<use href="#ag" x="733.2" y="385.2"/>
<use href="#ay" x="734.0" y="387.6"/>
<use href="#ay" x="734.9" y="390.0"/>
<use href="#ar" x="735.7" y="392.4"/>
<use href="#ab" x="679.4" y="397.4"/>
<use href="#ab" x="676.2" y="397.0"/>
<use href="#ab" x="673.8" y="393.9"/>
<use href="#ab" x="673.8" y="390.5"/>
<use href="#ab" x="675.9" y="386.9"/>
<use href="#ab" x="678.6" y="386.2"/>
<use href="#ab" x="681.1" y="388.2"/>
<use href="#ab" x="682.6" y="391.2"/>
<use href="#ab" x="682.1" y="395.1"/>
<use href="#ab" x="679.5" y="390.9"/>
<use href="#ab" x="676.1" y="393.0"/>
<use href="#ab" x="790.7" y="399.2"/>
<use href="#ab" x="786.1" y="400.2"/>
<use href="#ab" x="785.4" y="396.0"/>
<use href="#ab" x="789.3" y="395.5"/>
<use href="#ab" x="787.1" y="393.5"/>
<use href="#ab" x="792.6" y="396.8"/>
<use href="#ab" x="603.1" y="409.5"/>
<use href="#ab" x="600.1" y="411.5"/>
<use href="#ab" x="597.7" y="409.6"/>
<use href="#ab" x="597.8" y="404.7"/>
<use href="#ab" x="599.8" y="401.8"/>
<use href="#ab" x="602.9" y="402.2"/>
<use href="#ab" x="604.2" y="406.2"/>
<use href="#ab" x="599.1" y="407.0"/>
<use href="#ab" x="602.5" y="405.8"/>
<use href="#ab" x="611.6" y="404.0"/>
<use href="#ab" x="610.2" y="400.7"/>
<use href="#ab" x="611.8" y="397.9"/>
<use href="#ab" x="615.0" y="396.1"/>
<use href="#ab" x="618.0" y="397.7"/>
<use href="#ab" x="619.7" y="401.3"/>
<use href="#ab" x="618.6" y="404.4"/>
<use href="#ab" x="614.6" y="405.1"/>
<use href="#ab" x="615.8" y="399.5"/>
<use href="#ab" x="613.8" y="402.5"/>
<use href="#ab" x="624.4" y="413.9"/>
<use href="#ab" x="624.3" y="417.5"/>
<use href="#ab" x="622.2" y="420.1"/>
<use href="#ab" x="619.2" y="421.1"/>
<use href="#ab" x="616.7" y="420.3"/>
<use href="#ab" x="615.5" y="416.2"/>
<use href="#ab" x="616.3" y="412.6"/>
<use href="#ab" x="619.4" y="410.8"/>
<use href="#ab" x="621.5" y="411.2"/>
<use href="#ab" x="618.1" y="415.4"/>
<use href="#ab" x="622.0" y="416.5"/>
<use href="#ab" x="629.2" y="425.1"/>
<use href="#ab" x="625.3" y="423.6"/>
<use href="#ab" x="627.5" y="415.6"/>
<use href="#ab" x="622.7" y="421.3"/>
<use href="#ab" x="627.9" y="417.9"/>
<use href="#ab" x="625.0" y="418.2"/>
<use href="#ad" x="577.0" y="421.0"/>
<use href="#ad" x="582.0" y="420.0"/>
<use href="#ad" x="578.0" y="426.0"/>
<use href="#ad" x="583.0" y="425.0"/>
<use href="#ad" x="580.0" y="430.0"/>
<use href="#ab" x="554.8" y="432.5"/>
<use href="#ab" x="554.9" y="438.5"/>
<use href="#ab" x="555.0" y="444.5"/>
<use href="#ab" x="559.6" y="435.0"/>
<use href="#ab" x="559.7" y="440.5"/>
<use href="#ab" x="673.4" y="451.8"/>
<use href="#ab" x="670.9" y="454.0"/>
<use href="#ab" x="667.8" y="452.3"/>
<use href="#ab" x="666.6" y="449.2"/>
<use href="#ab" x="665.7" y="445.1"/>
<use href="#ab" x="668.2" y="441.8"/>
<use href="#ab" x="670.4" y="440.9"/>
<use href="#ab" x="673.4" y="441.9"/>
<use href="#ab" x="674.6" y="444.6"/>
<use href="#ab" x="675.3" y="448.6"/>
<use href="#ab" x="671.8" y="449.1"/>
<use href="#ab" x="669.5" y="444.9"/>
<use href="#ag" x="666.0" y="459.0"/>
<use href="#ay" x="671.5" y="459.0"/>
<use href="#ag" x="677.0" y="459.0"/>
<use href="#ab" x="636.0" y="446.5"/>
<use href="#ab" x="683.0" y="454.8"/>
<use href="#ay" x="666.5" y="401.0"/>
<use href="#ay" x="666.8" y="403.1"/>
<use href="#ar" x="667.1" y="405.2"/>
<use href="#ar" x="667.5" y="407.3"/>
<use href="#am" x="667.8" y="409.4"/>
<use href="#am" x="668.1" y="411.5"/>
<use href="#ay" x="668.4" y="413.5"/>
<use href="#ay" x="668.7" y="415.6"/>
<use href="#ag" x="669.0" y="417.7"/>
<use href="#ag" x="669.4" y="419.8"/>
<use href="#ab" x="669.7" y="421.9"/>
<use href="#ab" x="670.0" y="424.0"/>
<use href="#ab" x="685.4" y="412.7"/>
<use href="#ab" x="684.9" y="414.3"/>
<use href="#ag" x="684.3" y="416.0"/>
<use href="#ag" x="683.8" y="417.6"/>
<use href="#ar" x="683.2" y="419.2"/>
<use href="#ar" x="682.7" y="420.9"/>
<use href="#am" x="682.2" y="422.5"/>
<use href="#am" x="681.6" y="424.1"/>
<use href="#ay" x="681.1" y="425.7"/>
<use href="#ay" x="680.5" y="427.4"/>
<use href="#ag" x="680.0" y="429.0"/>
<use href="#ab" x="696.4" y="429.1"/>
<use href="#ab" x="700.7" y="429.3"/>
<use href="#ab" x="698.2" y="431.4"/>
<use href="#ab" x="713.4" y="398.4"/>
<use href="#ab" x="710.6" y="400.3"/>
<use href="#ab" x="707.7" y="399.2"/>
<use href="#ab" x="706.6" y="395.6"/>
<use href="#ab" x="707.7" y="392.0"/>
<use href="#ab" x="711.4" y="391.2"/>
<use href="#ab" x="713.5" y="394.5"/>
<use href="#ab" x="709.6" y="394.1"/>
<use href="#ab" x="710.3" y="398.0"/>
<use href="#ab" x="737.0" y="402.2"/>
<use href="#ab" x="734.5" y="404.7"/>
<use href="#ab" x="730.4" y="405.2"/>
<use href="#ab" x="727.8" y="403.8"/>
<use href="#ab" x="726.1" y="401.2"/>
<use href="#ab" x="726.0" y="397.6"/>
<use href="#ab" x="728.3" y="395.5"/>
<use href="#ab" x="732.6" y="394.1"/>
<use href="#ab" x="735.8" y="396.0"/>
<use href="#ab" x="737.7" y="398.9"/>
<use href="#ab" x="733.8" y="398.5"/>
<use href="#ab" x="731.9" y="402.6"/>
<use href="#ab" x="729.2" y="399.1"/>
<use href="#ar" x="726.0" y="398.0"/>
<use href="#ar" x="737.0" y="404.0"/>
<use href="#ag" x="715.0" y="389.0"/>
<use href="#ag" x="715.5" y="391.6"/>
<use href="#ay" x="716.0" y="394.1"/>
<use href="#ay" x="716.5" y="396.7"/>
<use href="#ar" x="717.0" y="399.3"/>
<use href="#ar" x="717.5" y="401.9"/>
<use href="#am" x="718.0" y="404.5"/>
<use href="#am" x="718.5" y="407.0"/>
<use href="#ay" x="719.0" y="409.6"/>
<use href="#ar" x="732.6" y="388.0"/>
<use href="#ay" x="735.7" y="395.0"/>
<use href="#ab" x="716.0" y="414.6"/>
<use href="#ab" x="717.4" y="417.6"/>
<use href="#ab" x="715.8" y="420.8"/>
<use href="#ab" x="712.0" y="421.7"/>
<use href="#ab" x="709.6" y="419.8"/>
<use href="#ab" x="709.8" y="416.3"/>
<use href="#ab" x="712.4" y="414.4"/>
<use href="#ab" x="711.6" y="418.7"/>
<use href="#ab" x="714.2" y="416.8"/>
<use href="#ab" x="696.0" y="428.0"/>
<use href="#ab" x="700.0" y="431.0"/>
<use href="#ab" x="704.0" y="430.0"/>
<use href="#ab" x="699.0" y="434.0"/>
<use href="#ab" x="739.1" y="433.6"/>
<use href="#ab" x="741.1" y="436.1"/>
<use href="#ab" x="741.1" y="439.7"/>
<use href="#ab" x="738.6" y="442.3"/>
<use href="#ab" x="736.4" y="443.2"/>
<use href="#ab" x="732.6" y="442.2"/>
<use href="#ab" x="730.3" y="440.2"/>
<use href="#ab" x="729.9" y="436.8"/>
<use href="#ab" x="732.6" y="434.0"/>
<use href="#ab" x="735.3" y="432.9"/>
<use href="#ab" x="734.1" y="439.9"/>
<use href="#ab" x="735.1" y="435.9"/>
<use href="#ab" x="737.7" y="438.3"/>
<use href="#ab" x="749.0" y="408.5"/>
<use href="#ag" x="753.6" y="404.9"/>
<use href="#ay" x="758.3" y="401.4"/>
<use href="#ab" x="755.0" y="414.7"/>
<use href="#ag" x="753.5" y="417.4"/>
<use href="#ay" x="752.0" y="420.0"/>
<use href="#ab" x="781.0" y="424.0"/>
<use href="#ag" x="777.1" y="426.8"/>
<use href="#ay" x="773.2" y="429.6"/>
<use href="#ar" x="769.4" y="432.4"/>
<use href="#am" x="765.5" y="435.2"/>
<use href="#ar" x="761.6" y="438.1"/>
<use href="#ay" x="757.8" y="440.9"/>
<use href="#ag" x="753.9" y="443.7"/>
<use href="#ab" x="750.0" y="446.5"/>
<use href="#ab" x="786.2" y="406.4"/>
<use href="#ab" x="783.5" y="405.0"/>
<use href="#ab" x="782.6" y="401.1"/>
<use href="#ab" x="783.5" y="397.9"/>
<use href="#ab" x="785.9" y="395.7"/>
<use href="#ab" x="789.3" y="396.7"/>
<use href="#ab" x="791.2" y="399.1"/>
<use href="#ab" x="791.2" y="402.0"/>
<use href="#ab" x="789.4" y="405.4"/>
<use href="#ab" x="785.0" y="400.0"/>
<use href="#ab" x="788.8" y="401.5"/>
<use href="#ab" x="802.1" y="426.2"/>
<use href="#ab" x="800.8" y="429.0"/>
<use href="#ab" x="797.7" y="430.8"/>
<use href="#ab" x="794.3" y="429.6"/>
<use href="#ab" x="793.0" y="427.0"/>
<use href="#ab" x="792.3" y="423.9"/>
<use href="#ab" x="794.0" y="421.1"/>
<use href="#ab" x="796.9" y="419.4"/>
<use href="#ab" x="799.9" y="420.6"/>
<use href="#ab" x="802.4" y="423.3"/>
<use href="#ab" x="798.5" y="427.2"/>
<use href="#ab" x="796.4" y="423.1"/>
<use href="#ab" x="833.3" y="391.0"/>
<use href="#ab" x="833.9" y="402.3"/>
<use href="#ab" x="828.8" y="399.9"/>
<use href="#ab" x="829.2" y="395.7"/>
<use href="#ab" x="835.8" y="399.7"/>
<use href="#ab" x="834.6" y="394.0"/>
<use href="#ab" x="829.0" y="402.8"/>
<use href="#ab" x="831.4" y="392.7"/>
<use href="#ab" x="829.1" y="431.0"/>
<use href="#ab" x="830.7" y="435.5"/>
<use href="#ab" x="828.2" y="432.6"/>
<use href="#ab" x="832.6" y="433.0"/>
<use href="#ab" x="828.4" y="427.4"/>
<use href="#ab" x="832.9" y="429.3"/>
<use href="#ab" x="833.0" y="424.2"/>
<use href="#ab" x="832.0" y="427.5"/>
<use href="#ab" x="810.7" y="440.0"/>
<use href="#ab" x="809.9" y="437.3"/>
<use href="#ab" x="803.3" y="440.9"/>
<use href="#ab" x="807.3" y="439.6"/>
<use href="#ab" x="806.4" y="442.6"/>
<use href="#ab" x="815.6" y="440.3"/>
<use href="#ab" x="812.3" y="443.6"/>
<use href="#ab" x="749.9" y="456.5"/>
<use href="#ab" x="748.6" y="452.9"/>
<use href="#ab" x="748.7" y="449.4"/>
<use href="#ab" x="750.9" y="447.5"/>
<use href="#ab" x="753.4" y="447.2"/>
<use href="#ab" x="755.9" y="449.1"/>
<use href="#ab" x="758.0" y="452.1"/>
<use href="#ab" x="757.3" y="456.1"/>
<use href="#ab" x="754.9" y="458.5"/>
<use href="#ab" x="751.6" y="458.9"/>
<use href="#ab" x="752.0" y="450.5"/>
<use href="#ab" x="753.9" y="454.7"/>
<use href="#ab" x="739.1" y="462.6"/>
<use href="#ab" x="741.1" y="465.5"/>
<use href="#ab" x="733.7" y="464.9"/>
<use href="#ab" x="735.9" y="467.8"/>
<use href="#ab" x="737.3" y="466.1"/>
<use href="#ab" x="735.2" y="462.7"/>
<use href="#ab" x="738.0" y="468.5"/>
<use href="#ab" x="744.1" y="464.5"/>
<use href="#ab" x="732.6" y="471.0"/>
<use href="#ab" x="732.6" y="479.4"/>
<use href="#ab" x="697.7" y="448.6"/>
<use href="#ag" x="701.8" y="451.7"/>
<use href="#ab" x="673.6" y="449.2"/>
<use href="#ab" x="674.1" y="442.5"/>
<use href="#ab" x="674.6" y="444.8"/>
<use href="#ab" x="674.5" y="451.5"/>
<use href="#ab" x="672.3" y="440.0"/>
<use href="#ab" x="672.0" y="452.2"/>
<use href="#ab" x="670.7" y="446.0"/>
<use href="#ay" x="777.8" y="388.0"/>
<use href="#ay" x="777.0" y="389.5"/>
<use href="#ag" x="776.2" y="391.0"/>
<use href="#ag" x="775.5" y="392.5"/>
<use href="#ab" x="774.7" y="394.0"/>
</g>
</g>
<g id="panel-a">
<g fill="none" shape-rendering="auto">
<line x1="73.5" y1="8.8" x2="485.0" y2="8.8" stroke="#a3a3a3" stroke-width="1.3"/>
<line x1="484.5" y1="8.8" x2="484.5" y2="423.3" stroke="#8a8a8a" stroke-width="1.5"/>
<line x1="73.5" y1="8.8" x2="73.5" y2="427.8" stroke="#b4b4b4" stroke-width="1.1"/>
<line x1="68.5" y1="422.8" x2="484.5" y2="422.8" stroke="#b9b9b9" stroke-width="1.1"/>
<line x1="68.5" y1="422.80" x2="73.5" y2="422.80" stroke="#b4b4b4" stroke-width="1"/>
<line x1="68.5" y1="353.80" x2="73.5" y2="353.80" stroke="#b4b4b4" stroke-width="1"/>
<line x1="68.5" y1="284.80" x2="73.5" y2="284.80" stroke="#b4b4b4" stroke-width="1"/>
<line x1="68.5" y1="215.80" x2="73.5" y2="215.80" stroke="#b4b4b4" stroke-width="1"/>
<line x1="68.5" y1="146.80" x2="73.5" y2="146.80" stroke="#b4b4b4" stroke-width="1"/>
<line x1="68.5" y1="77.80" x2="73.5" y2="77.80" stroke="#b4b4b4" stroke-width="1"/>
<line x1="68.5" y1="8.80" x2="73.5" y2="8.80" stroke="#b4b4b4" stroke-width="1"/>
<line x1="73.50" y1="422.8" x2="73.50" y2="427.8" stroke="#b4b4b4" stroke-width="1"/>
<line x1="142.00" y1="422.8" x2="142.00" y2="427.8" stroke="#b4b4b4" stroke-width="1"/>
<line x1="210.50" y1="422.8" x2="210.50" y2="427.8" stroke="#b4b4b4" stroke-width="1"/>
<line x1="279.00" y1="422.8" x2="279.00" y2="427.8" stroke="#b4b4b4" stroke-width="1"/>
<line x1="347.50" y1="422.8" x2="347.50" y2="427.8" stroke="#b4b4b4" stroke-width="1"/>
<line x1="416.00" y1="422.8" x2="416.00" y2="427.8" stroke="#b4b4b4" stroke-width="1"/>
<line x1="484.50" y1="422.8" x2="484.50" y2="427.8" stroke="#b4b4b4" stroke-width="1"/>
</g>
<g font-family="Liberation Sans, Arial, sans-serif" font-size="15.7" fill="#222" stroke="#222" stroke-width="0.25">
<text x="57.2" y="427.7" text-anchor="end">0</text>
<text x="57.2" y="358.7" text-anchor="end">0.2</text>
<text x="57.2" y="289.7" text-anchor="end">0.4</text>
<text x="57.2" y="220.7" text-anchor="end">0.6</text>
<text x="57.2" y="151.7" text-anchor="end">0.8</text>
<text x="57.2" y="82.7" text-anchor="end">1</text>
<text x="57.2" y="13.7" text-anchor="end">1.2</text>
<text x="73.5" y="451.3" text-anchor="middle">100</text>
<text x="142.0" y="451.3" text-anchor="middle">200</text>
<text x="210.5" y="451.3" text-anchor="middle">300</text>
<text x="279.0" y="451.3" text-anchor="middle">400</text>
<text x="347.5" y="451.3" text-anchor="middle">500</text>
<text x="416.0" y="451.3" text-anchor="middle">600</text>
<text x="484.5" y="451.3" text-anchor="middle">700</text>
</g>
<g font-family="Liberation Sans, Arial, sans-serif" font-size="17.5" fill="#222" stroke="#222" stroke-width="0.3"><text x="209.2" y="478.5" textLength="111.3" lengthAdjust="spacingAndGlyphs">Temperature</text><text x="325.5" y="478.5" textLength="25" lengthAdjust="spacingAndGlyphs">(K)</text></g>
<g transform="translate(17.7,0) rotate(-90)" font-family="Liberation Sans, Arial, sans-serif" font-size="18" fill="#222" stroke="#222" stroke-width="0.3"><text x="-348.5" y="0" textLength="68.5" lengthAdjust="spacingAndGlyphs">Thermal</text><text x="-275" y="0" textLength="89.7" lengthAdjust="spacingAndGlyphs">Diffusivity</text><text x="-178.5" y="0" textLength="60" lengthAdjust="spacingAndGlyphs">(cm<tspan font-size="11.5" dy="-6">2</tspan><tspan dy="6">/s)</tspan></text></g>
<g fill="none" stroke-linejoin="round">
<path d="M73.5 38.1 L141.3 159.9 L208.1 189.2" stroke="#1a1a1a" stroke-width="1.45" stroke-dasharray="4.6 3"/>
<path d="M208.1 189.2 L260.5 205.1 L329.0 217.5 L390.0 229.6 L416.0 233.0" stroke="#1a1a1a" stroke-width="1.55"/>
<path d="M416.0 233.0 L484.5 242.0" stroke="#1a1a1a" stroke-width="1.45" stroke-dasharray="4.6 3" stroke-dashoffset="4.6"/>
<path d="M73.5 148.7 L143.4 201.3 L209.8 213.7" stroke="#1c1c9c" stroke-width="1.45" stroke-dasharray="4.6 3"/>
<path d="M209.8 213.7 L260.5 221.3 L329.0 230.6 L390.0 237.5 L416.0 240.6" stroke="#1c1c9c" stroke-width="1.55"/>
<path d="M416.0 240.6 L484.5 248.2" stroke="#1c1c9c" stroke-width="1.45" stroke-dasharray="4.6 3" stroke-dashoffset="4.6"/>
<path d="M73.5 252.0 L107.8 253.1 L142.0 254.1 L176.2 252.4 L207.8 249.3" stroke="#6aa838" stroke-width="1.45" stroke-dasharray="4.6 3"/>
<path d="M207.8 249.3 L260.5 249.3 L329.0 250.5 L390.0 253.8 L416.0 255.1" stroke="#6aa838" stroke-width="1.55"/>
<path d="M416.0 255.1 L484.5 259.6" stroke="#6aa838" stroke-width="1.45" stroke-dasharray="4.6 3" stroke-dashoffset="4.6"/>
<path d="M73.5 339.5 L209.8 305.0" stroke="#c8203c" stroke-width="1.45" stroke-dasharray="4.6 3"/>
<path d="M209.8 305.0 L260.5 295.5 L279.0 293.1 L329.0 288.6 L390.0 285.5 L416.0 285.1" stroke="#3a1010" stroke-width="1.6" transform="translate(0,0.5)"/>
<path d="M209.8 305.0 L260.5 295.5 L279.0 293.1 L329.0 288.6 L390.0 285.5 L416.0 285.1" stroke="#c8203c" stroke-width="1.55"/>
<path d="M416.0 285.1 L484.5 283.2" stroke="#c8203c" stroke-width="1.45" stroke-dasharray="4.6 3" stroke-dashoffset="4.6"/>
</g>
<g fill="none" stroke-width="1">
<path d="M101.5 87V108.8M99.5 87h4M99.5 108.8h4" stroke="#333" stroke-width="0.9"/>
<circle cx="101.5" cy="97.5" r="3.7" stroke="#222" stroke-width="1"/>
<path d="M142.5 120V157.5M140.5 120h4M140.5 157.5h4" stroke="#333" stroke-width="0.9"/>
<circle cx="142.5" cy="138.5" r="3.7" stroke="#222" stroke-width="1"/>
<path d="M208.2 178V200M206.2 178h4M206.2 200h4" stroke="#333" stroke-width="0.9"/>
<circle cx="208.2" cy="188.8" r="3.7" stroke="#222" stroke-width="1"/>
<path d="M260.5 207V222.5M258.5 207h4M258.5 222.5h4" stroke="#333" stroke-width="0.9"/>
<circle cx="260.5" cy="215" r="3.7" stroke="#222" stroke-width="1"/>
<path d="M329 216.8V237.5M327 216.8h4M327 237.5h4" stroke="#333" stroke-width="0.9"/>
<circle cx="329" cy="227.5" r="3.7" stroke="#222" stroke-width="1"/>
<path d="M208.2 236V246.5M206.2 236h4M206.2 246.5h4" stroke="#22228a" stroke-width="0.9"/>
<path d="M208.2 238.0L212.0 245.7H204.39999999999998Z" stroke="#2a2aa8" stroke-width="1"/>
<path d="M260.5 242.5V255M258.5 242.5h4M258.5 255h4" stroke="#22228a" stroke-width="0.9"/>
<path d="M260.5 245.5L264.3 253.2H256.7Z" stroke="#2a2aa8" stroke-width="1"/>
<path d="M329 251V266M327 251h4M327 266h4" stroke="#22228a" stroke-width="0.9"/>
<path d="M329 254.3L332.8 262.0H325.2Z" stroke="#2a2aa8" stroke-width="1"/>
<path d="M208.2 293.5V302.5M206.2 293.5h4M206.2 302.5h4" stroke="#7a2a2a" stroke-width="0.9"/>
<rect x="204.39999999999998" y="293.7" width="7.6" height="8.6" stroke="#c43a48" stroke-width="1"/>
<path d="M260.3 289V302M258.3 289h4M258.3 302h4" stroke="#7a2a2a" stroke-width="0.9"/>
<rect x="256.5" y="291.2" width="7.6" height="8.6" stroke="#c43a48" stroke-width="1"/>
<path d="M329.2 293.5V300.5M327.2 293.5h4M327.2 300.5h4" stroke="#7a2a2a" stroke-width="0.9"/>
<rect x="325.4" y="292.7" width="7.6" height="8.6" stroke="#c43a48" stroke-width="1"/>
</g>
<g fill="none"><circle cx="306.3" cy="36.8" r="3.4" stroke="#333" stroke-width="1"/><path d="M306.3 69.4L309.9 76.8H302.7Z" stroke="#5a5ac0" stroke-width="1"/><rect x="303.2" y="106" width="7.6" height="7.8" stroke="#cc6070" stroke-width="1"/></g>
<g font-family="Liberation Sans, Arial, sans-serif" font-size="15.3" fill="#1c1c1c" stroke="#1c1c1c" stroke-width="0.4">
<text x="316.3" y="40.8" textLength="53" lengthAdjust="spacingAndGlyphs">Pure W</text>
<text x="316.3" y="77.5" textLength="129.3" lengthAdjust="spacingAndGlyphs">W + 280 appm He</text>
<text x="316.3" y="113.8" textLength="138" lengthAdjust="spacingAndGlyphs">W + 3100 appm He</text>
</g>
<rect x="1.3" y="1.2" width="31" height="31" fill="#fff" stroke="#555" stroke-width="1.1"/>
<text x="16.3" y="22.2" font-family="Liberation Sans, Arial, sans-serif" font-size="22.5" fill="#111" text-anchor="middle">a</text>
<rect x="500.8" y="1.2" width="31.2" height="31.2" fill="#fff" stroke="#555" stroke-width="1.1"/>
<text x="516" y="24.3" font-family="Liberation Sans, Arial, sans-serif" font-size="22.5" fill="#111" text-anchor="middle">b</text>
</g>
</svg>
</body></html>
